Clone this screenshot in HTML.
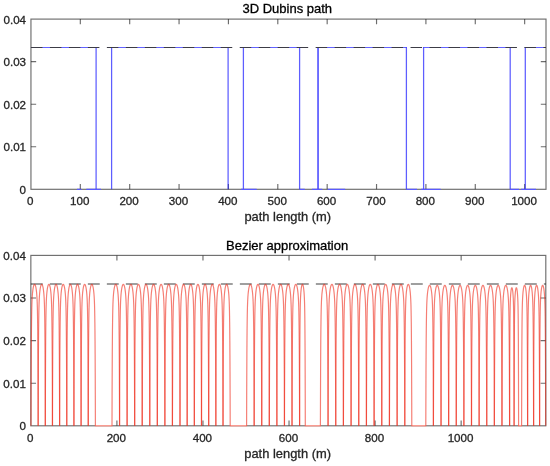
<!DOCTYPE html>
<html><head><meta charset="utf-8"><title>Curvature plots</title>
<style>
html,body{margin:0;padding:0;background:#fff;}
body{width:550px;height:466px;overflow:hidden;}
svg{display:block;}
text{font-family:"Liberation Sans", Arial, Helvetica, sans-serif;fill:#262626;}
text{stroke:#262626;stroke-width:0.3px;}
.tk{font-size:11.6px;}
.lb{font-size:12.9px;}
.tt{font-size:13px;fill:#000;stroke:#000;}
.ax{stroke:#262626;stroke-width:1.15;fill:none;opacity:0.67;}
.dash{stroke:#000;stroke-width:1.4;fill:none;stroke-dasharray:11.9 7.1;opacity:0.5;}
.blueh{stroke:#2020ff;stroke-width:1.05;fill:none;opacity:0.7;}
.dash1{stroke:#3c3c46;stroke-width:1.05;fill:none;stroke-dasharray:11.5 7.48;}
.blue{stroke:#2020ff;stroke-width:1.25;fill:none;opacity:0.72;}
.redflat{stroke:#f89c92;stroke-width:1.5;fill:none;}
.blueflat{stroke:#5a5aff;stroke-width:1.2;fill:none;}
.red path{stroke:#ee2818;stroke-width:1.18;fill:none;stroke-linejoin:round;stroke-opacity:0.6;}
</style></head><body>
<svg width="550" height="466" viewBox="0 0 550 466">
<rect width="550" height="466" fill="#fff"/>

<g>
<rect class="ax" x="30.95" y="19.1" width="515.05" height="170.20000000000002"/>
<path class="ax" d="M80.32 189.3v-5.2M80.32 19.1v5.2M129.69 189.3v-5.2M129.69 19.1v5.2M179.06 189.3v-5.2M179.06 19.1v5.2M228.43 189.3v-5.2M228.43 19.1v5.2M277.80 189.3v-5.2M277.80 19.1v5.2M327.17 189.3v-5.2M327.17 19.1v5.2M376.54 189.3v-5.2M376.54 19.1v5.2M425.91 189.3v-5.2M425.91 19.1v5.2M475.28 189.3v-5.2M475.28 19.1v5.2M524.65 189.3v-5.2M524.65 19.1v5.2M30.95 146.75h5.2M546.0 146.75h-5.2M30.95 104.20h5.2M546.0 104.20h-5.2M30.95 61.65h5.2M546.0 61.65h-5.2"/>
<path class="blueh" d="M30.95 47.5H96.70M111.00 47.5H228.70M242.80 47.5H300.20M317.20 47.5H407.00M423.00 47.5H510.80M524.70 47.5H546.00"/>
<path class="blue" d="M96.1 47.5V189.3M111.6 189.3V47.5M228.1 47.5V189.3M243.4 189.3V47.5M299.6 47.5V189.3M317.8 189.3V47.5M406.4 47.5V189.3M423.6 189.3V47.5M510.2 47.5V189.3M525.3 189.3V47.5M318.3 189.3V47.5"/>
<path class="blueflat" d="M77 189.3H81.4M86.3 189.3H101M241 189.3H256.7M299.6 189.3H304.8M311.9 189.3H322.3M327.7 189.3H345.2M406.4 189.3H417M421.1 189.3H440.7M510.2 189.3H519M521 189.3H536"/>
<path class="dash1" d="M30.95 47.5H546.0"/>
<text class="tk" x="30.35" y="205.30" text-anchor="middle">0</text>
<text class="tk" x="79.72" y="205.30" text-anchor="middle">100</text>
<text class="tk" x="129.09" y="205.30" text-anchor="middle">200</text>
<text class="tk" x="178.46" y="205.30" text-anchor="middle">300</text>
<text class="tk" x="227.83" y="205.30" text-anchor="middle">400</text>
<text class="tk" x="277.20" y="205.30" text-anchor="middle">500</text>
<text class="tk" x="326.57" y="205.30" text-anchor="middle">600</text>
<text class="tk" x="375.94" y="205.30" text-anchor="middle">700</text>
<text class="tk" x="425.31" y="205.30" text-anchor="middle">800</text>
<text class="tk" x="474.68" y="205.30" text-anchor="middle">900</text>
<text class="tk" x="524.05" y="205.30" text-anchor="middle">1000</text>
<text class="tk" x="26.05" y="193.70" text-anchor="end">0</text>
<text class="tk" x="26.05" y="151.15" text-anchor="end">0.01</text>
<text class="tk" x="26.05" y="108.60" text-anchor="end">0.02</text>
<text class="tk" x="26.05" y="66.05" text-anchor="end">0.03</text>
<text class="tk" x="26.05" y="23.50" text-anchor="end">0.04</text>
<text class="tt" x="287.28" y="13.20" text-anchor="middle">3D Dubins path</text>
<text class="lb" x="287.78" y="221.40" text-anchor="middle">path length (m)</text>
</g>
<g>
<rect class="ax" x="30.85" y="255.4" width="514.9499999999999" height="170.4"/>
<path class="ax" d="M116.91 425.8v-5.2M116.91 255.4v5.2M202.97 425.8v-5.2M202.97 255.4v5.2M289.03 425.8v-5.2M289.03 255.4v5.2M375.09 425.8v-5.2M375.09 255.4v5.2M461.15 425.8v-5.2M461.15 255.4v5.2M30.85 383.20h5.2M545.8 383.20h-5.2M30.85 340.60h5.2M545.8 340.60h-5.2M30.85 298.00h5.2M545.8 298.00h-5.2"/>
<path class="dash" d="M30.85 284H545.8"/>
<path class="redflat" d="M94.90 425.75H112.50M229.70 425.75H247.10M304.80 425.75H320.90M411.30 425.75H426.30M518.10 425.75H522.10"/>
<g class="red"><path d="M31.00 425.80L31.09 395.60L31.18 372.35L31.27 354.49L31.36 340.79L31.45 330.27L31.54 322.17L31.63 315.90L31.72 311.03L31.80 307.19L31.89 304.14L31.98 301.66L32.07 299.63L32.16 297.92L32.25 296.46L32.34 295.19L32.43 294.07L32.52 293.07L32.61 292.16L32.70 291.34L32.79 290.58L32.88 289.89L32.97 289.25L33.06 288.67L33.15 288.13L33.24 287.63L33.33 287.18L33.41 286.77L33.50 286.39L33.59 286.05L33.68 285.75L33.77 285.48L33.86 285.24L33.95 285.03L34.04 284.85L34.13 284.70L34.22 284.58L34.31 284.49L34.40 284.42L34.49 284.38L34.58 284.37L34.67 284.38L34.76 284.42L34.85 284.49L34.94 284.58L35.02 284.70L35.11 284.85L35.20 285.03L35.29 285.24L35.38 285.48L35.47 285.75L35.56 286.05L35.65 286.39L35.74 286.77L35.83 287.18L35.92 287.63L36.01 288.13L36.10 288.67L36.19 289.25L36.28 289.89L36.37 290.58L36.46 291.34L36.55 292.16L36.64 293.07L36.72 294.07L36.81 295.19L36.90 296.46L36.99 297.92L37.08 299.63L37.17 301.66L37.26 304.14L37.35 307.19L37.44 311.03L37.53 315.90L37.62 322.17L37.71 330.27L37.80 340.79L37.89 354.49L37.98 372.35L38.07 395.60L38.16 425.80"/><path d="M38.16 425.80L38.25 395.60L38.33 372.35L38.42 354.49L38.51 340.79L38.60 330.27L38.69 322.17L38.78 315.90L38.87 311.03L38.96 307.19L39.05 304.14L39.14 301.66L39.23 299.63L39.32 297.92L39.41 296.46L39.50 295.19L39.59 294.07L39.68 293.07L39.77 292.16L39.86 291.34L39.94 290.58L40.03 289.89L40.12 289.25L40.21 288.67L40.30 288.13L40.39 287.63L40.48 287.18L40.57 286.77L40.66 286.39L40.75 286.05L40.84 285.75L40.93 285.48L41.02 285.24L41.11 285.03L41.20 284.85L41.29 284.70L41.38 284.58L41.47 284.49L41.55 284.42L41.64 284.38L41.73 284.37L41.82 284.38L41.91 284.42L42.00 284.49L42.09 284.58L42.18 284.70L42.27 284.85L42.36 285.03L42.45 285.24L42.54 285.48L42.63 285.75L42.72 286.05L42.81 286.39L42.90 286.77L42.99 287.18L43.08 287.63L43.16 288.13L43.25 288.67L43.34 289.25L43.43 289.89L43.52 290.58L43.61 291.34L43.70 292.16L43.79 293.07L43.88 294.07L43.97 295.19L44.06 296.46L44.15 297.92L44.24 299.63L44.33 301.66L44.42 304.14L44.51 307.19L44.60 311.03L44.69 315.90L44.77 322.17L44.86 330.27L44.95 340.79L45.04 354.49L45.13 372.35L45.22 395.60L45.31 425.80"/><path d="M45.31 425.80L45.40 395.60L45.49 372.35L45.58 354.49L45.67 340.79L45.76 330.27L45.85 322.17L45.94 315.90L46.03 311.03L46.12 307.19L46.21 304.14L46.30 301.66L46.38 299.63L46.47 297.92L46.56 296.46L46.65 295.19L46.74 294.07L46.83 293.07L46.92 292.16L47.01 291.34L47.10 290.58L47.19 289.89L47.28 289.25L47.37 288.67L47.46 288.13L47.55 287.63L47.64 287.18L47.73 286.77L47.82 286.39L47.91 286.05L47.99 285.75L48.08 285.48L48.17 285.24L48.26 285.03L48.35 284.85L48.44 284.70L48.53 284.58L48.62 284.49L48.71 284.42L48.80 284.38L48.89 284.37L48.98 284.38L49.07 284.42L49.16 284.49L49.25 284.58L49.34 284.70L49.43 284.85L49.52 285.03L49.60 285.24L49.69 285.48L49.78 285.75L49.87 286.05L49.96 286.39L50.05 286.77L50.14 287.18L50.23 287.63L50.32 288.13L50.41 288.67L50.50 289.25L50.59 289.89L50.68 290.58L50.77 291.34L50.86 292.16L50.95 293.07L51.04 294.07L51.12 295.19L51.21 296.46L51.30 297.92L51.39 299.63L51.48 301.66L51.57 304.14L51.66 307.19L51.75 311.03L51.84 315.90L51.93 322.17L52.02 330.27L52.11 340.79L52.20 354.49L52.29 372.35L52.38 395.60L52.47 425.80"/><path d="M52.47 425.80L52.56 395.60L52.65 372.35L52.73 354.49L52.82 340.79L52.91 330.27L53.00 322.17L53.09 315.90L53.18 311.03L53.27 307.19L53.36 304.14L53.45 301.66L53.54 299.63L53.63 297.92L53.72 296.46L53.81 295.19L53.90 294.07L53.99 293.07L54.08 292.16L54.17 291.34L54.26 290.58L54.34 289.89L54.43 289.25L54.52 288.67L54.61 288.13L54.70 287.63L54.79 287.18L54.88 286.77L54.97 286.39L55.06 286.05L55.15 285.75L55.24 285.48L55.33 285.24L55.42 285.03L55.51 284.85L55.60 284.70L55.69 284.58L55.78 284.49L55.87 284.42L55.95 284.38L56.04 284.37L56.13 284.38L56.22 284.42L56.31 284.49L56.40 284.58L56.49 284.70L56.58 284.85L56.67 285.03L56.76 285.24L56.85 285.48L56.94 285.75L57.03 286.05L57.12 286.39L57.21 286.77L57.30 287.18L57.39 287.63L57.48 288.13L57.56 288.67L57.65 289.25L57.74 289.89L57.83 290.58L57.92 291.34L58.01 292.16L58.10 293.07L58.19 294.07L58.28 295.19L58.37 296.46L58.46 297.92L58.55 299.63L58.64 301.66L58.73 304.14L58.82 307.19L58.91 311.03L59.00 315.90L59.09 322.17L59.17 330.27L59.26 340.79L59.35 354.49L59.44 372.35L59.53 395.60L59.62 425.80"/><path d="M59.62 425.80L59.71 395.60L59.80 372.35L59.89 354.49L59.98 340.79L60.07 330.27L60.16 322.17L60.25 315.90L60.34 311.03L60.43 307.19L60.52 304.14L60.61 301.66L60.70 299.63L60.78 297.92L60.87 296.46L60.96 295.19L61.05 294.07L61.14 293.07L61.23 292.16L61.32 291.34L61.41 290.58L61.50 289.89L61.59 289.25L61.68 288.67L61.77 288.13L61.86 287.63L61.95 287.18L62.04 286.77L62.13 286.39L62.22 286.05L62.31 285.75L62.39 285.48L62.48 285.24L62.57 285.03L62.66 284.85L62.75 284.70L62.84 284.58L62.93 284.49L63.02 284.42L63.11 284.38L63.20 284.37L63.29 284.38L63.38 284.42L63.47 284.49L63.56 284.58L63.65 284.70L63.74 284.85L63.83 285.03L63.92 285.24L64.00 285.48L64.09 285.75L64.18 286.05L64.27 286.39L64.36 286.77L64.45 287.18L64.54 287.63L64.63 288.13L64.72 288.67L64.81 289.25L64.90 289.89L64.99 290.58L65.08 291.34L65.17 292.16L65.26 293.07L65.35 294.07L65.44 295.19L65.53 296.46L65.61 297.92L65.70 299.63L65.79 301.66L65.88 304.14L65.97 307.19L66.06 311.03L66.15 315.90L66.24 322.17L66.33 330.27L66.42 340.79L66.51 354.49L66.60 372.35L66.69 395.60L66.78 425.80"/><path d="M66.78 425.80L66.87 395.60L66.96 372.35L67.05 354.49L67.14 340.79L67.22 330.27L67.31 322.17L67.40 315.90L67.49 311.03L67.58 307.19L67.67 304.14L67.76 301.66L67.85 299.63L67.94 297.92L68.03 296.46L68.12 295.19L68.21 294.07L68.30 293.07L68.39 292.16L68.48 291.34L68.57 290.58L68.66 289.89L68.75 289.25L68.83 288.67L68.92 288.13L69.01 287.63L69.10 287.18L69.19 286.77L69.28 286.39L69.37 286.05L69.46 285.75L69.55 285.48L69.64 285.24L69.73 285.03L69.82 284.85L69.91 284.70L70.00 284.58L70.09 284.49L70.18 284.42L70.27 284.38L70.36 284.37L70.44 284.38L70.53 284.42L70.62 284.49L70.71 284.58L70.80 284.70L70.89 284.85L70.98 285.03L71.07 285.24L71.16 285.48L71.25 285.75L71.34 286.05L71.43 286.39L71.52 286.77L71.61 287.18L71.70 287.63L71.79 288.13L71.88 288.67L71.97 289.25L72.06 289.89L72.14 290.58L72.23 291.34L72.32 292.16L72.41 293.07L72.50 294.07L72.59 295.19L72.68 296.46L72.77 297.92L72.86 299.63L72.95 301.66L73.04 304.14L73.13 307.19L73.22 311.03L73.31 315.90L73.40 322.17L73.49 330.27L73.58 340.79L73.67 354.49L73.75 372.35L73.84 395.60L73.93 425.80"/><path d="M73.93 425.80L74.02 395.60L74.11 372.35L74.20 354.49L74.29 340.79L74.38 330.27L74.47 322.17L74.56 315.90L74.65 311.03L74.74 307.19L74.83 304.14L74.92 301.66L75.01 299.63L75.10 297.92L75.19 296.46L75.28 295.19L75.36 294.07L75.45 293.07L75.54 292.16L75.63 291.34L75.72 290.58L75.81 289.89L75.90 289.25L75.99 288.67L76.08 288.13L76.17 287.63L76.26 287.18L76.35 286.77L76.44 286.39L76.53 286.05L76.62 285.75L76.71 285.48L76.80 285.24L76.89 285.03L76.97 284.85L77.06 284.70L77.15 284.58L77.24 284.49L77.33 284.42L77.42 284.38L77.51 284.37L77.60 284.38L77.69 284.42L77.78 284.49L77.87 284.58L77.96 284.70L78.05 284.85L78.14 285.03L78.23 285.24L78.32 285.48L78.41 285.75L78.50 286.05L78.58 286.39L78.67 286.77L78.76 287.18L78.85 287.63L78.94 288.13L79.03 288.67L79.12 289.25L79.21 289.89L79.30 290.58L79.39 291.34L79.48 292.16L79.57 293.07L79.66 294.07L79.75 295.19L79.84 296.46L79.93 297.92L80.02 299.63L80.11 301.66L80.19 304.14L80.28 307.19L80.37 311.03L80.46 315.90L80.55 322.17L80.64 330.27L80.73 340.79L80.82 354.49L80.91 372.35L81.00 395.60L81.09 425.80"/><path d="M81.09 425.80L81.18 395.60L81.27 372.35L81.36 354.49L81.45 340.79L81.54 330.27L81.63 322.17L81.72 315.90L81.80 311.03L81.89 307.19L81.98 304.14L82.07 301.66L82.16 299.63L82.25 297.92L82.34 296.46L82.43 295.19L82.52 294.07L82.61 293.07L82.70 292.16L82.79 291.34L82.88 290.58L82.97 289.89L83.06 289.25L83.15 288.67L83.24 288.13L83.33 287.63L83.41 287.18L83.50 286.77L83.59 286.39L83.68 286.05L83.77 285.75L83.86 285.48L83.95 285.24L84.04 285.03L84.13 284.85L84.22 284.70L84.31 284.58L84.40 284.49L84.49 284.42L84.58 284.38L84.67 284.37L84.76 284.38L84.85 284.42L84.94 284.49L85.02 284.58L85.11 284.70L85.20 284.85L85.29 285.03L85.38 285.24L85.47 285.48L85.56 285.75L85.65 286.05L85.74 286.39L85.83 286.77L85.92 287.18L86.01 287.63L86.10 288.13L86.19 288.67L86.28 289.25L86.37 289.89L86.46 290.58L86.55 291.34L86.63 292.16L86.72 293.07L86.81 294.07L86.90 295.19L86.99 296.46L87.08 297.92L87.17 299.63L87.26 301.66L87.35 304.14L87.44 307.19L87.53 311.03L87.62 315.90L87.71 322.17L87.80 330.27L87.89 340.79L87.98 354.49L88.07 372.35L88.16 395.60L88.24 425.80"/><path d="M88.24 425.80L88.33 395.60L88.42 372.35L88.51 354.49L88.60 340.79L88.69 330.27L88.78 322.17L88.87 315.90L88.96 311.03L89.05 307.19L89.14 304.14L89.23 301.66L89.32 299.63L89.41 297.92L89.50 296.46L89.59 295.19L89.68 294.07L89.77 293.07L89.85 292.16L89.94 291.34L90.03 290.58L90.12 289.89L90.21 289.25L90.30 288.67L90.39 288.13L90.48 287.63L90.57 287.18L90.66 286.77L90.75 286.39L90.84 286.05L90.93 285.75L91.02 285.48L91.11 285.24L91.20 285.03L91.29 284.85L91.38 284.70L91.46 284.58L91.55 284.49L91.64 284.42L91.73 284.38L91.82 284.37L91.91 284.38L92.00 284.42L92.09 284.49L92.18 284.58L92.27 284.70L92.36 284.85L92.45 285.03L92.54 285.24L92.63 285.48L92.72 285.75L92.81 286.05L92.90 286.39L92.98 286.77L93.07 287.18L93.16 287.63L93.25 288.13L93.34 288.67L93.43 289.25L93.52 289.89L93.61 290.58L93.70 291.34L93.79 292.16L93.88 293.07L93.97 294.07L94.06 295.19L94.15 296.46L94.24 297.92L94.33 299.63L94.42 301.66L94.51 304.14L94.59 307.19L94.68 311.03L94.77 315.90L94.86 322.17L94.95 330.27L95.04 340.79L95.13 354.49L95.22 372.35L95.31 395.60L95.40 425.80"/><path d="M112.00 425.80L112.09 395.60L112.19 372.35L112.28 354.49L112.38 340.79L112.47 330.27L112.57 322.17L112.66 315.90L112.76 311.03L112.85 307.19L112.94 304.14L113.04 301.66L113.13 299.63L113.23 297.92L113.32 296.46L113.42 295.19L113.51 294.07L113.61 293.07L113.70 292.16L113.79 291.34L113.89 290.58L113.98 289.89L114.08 289.25L114.17 288.67L114.27 288.13L114.36 287.63L114.46 287.18L114.55 286.77L114.64 286.39L114.74 286.05L114.83 285.75L114.93 285.48L115.02 285.24L115.12 285.03L115.21 284.85L115.31 284.70L115.40 284.58L115.49 284.49L115.59 284.42L115.68 284.38L115.78 284.37L115.87 284.38L115.97 284.42L116.06 284.49L116.16 284.58L116.25 284.70L116.34 284.85L116.44 285.03L116.53 285.24L116.63 285.48L116.72 285.75L116.82 286.05L116.91 286.39L117.01 286.77L117.10 287.18L117.19 287.63L117.29 288.13L117.38 288.67L117.48 289.25L117.57 289.89L117.67 290.58L117.76 291.34L117.86 292.16L117.95 293.07L118.04 294.07L118.14 295.19L118.23 296.46L118.33 297.92L118.42 299.63L118.52 301.66L118.61 304.14L118.71 307.19L118.80 311.03L118.89 315.90L118.99 322.17L119.08 330.27L119.18 340.79L119.27 354.49L119.37 372.35L119.46 395.60L119.56 425.80"/><path d="M119.56 425.80L119.65 395.60L119.74 372.35L119.84 354.49L119.93 340.79L120.03 330.27L120.12 322.17L120.22 315.90L120.31 311.03L120.41 307.19L120.50 304.14L120.59 301.66L120.69 299.63L120.78 297.92L120.88 296.46L120.97 295.19L121.07 294.07L121.16 293.07L121.26 292.16L121.35 291.34L121.44 290.58L121.54 289.89L121.63 289.25L121.73 288.67L121.82 288.13L121.92 287.63L122.01 287.18L122.11 286.77L122.20 286.39L122.29 286.05L122.39 285.75L122.48 285.48L122.58 285.24L122.67 285.03L122.77 284.85L122.86 284.70L122.96 284.58L123.05 284.49L123.14 284.42L123.24 284.38L123.33 284.37L123.43 284.38L123.52 284.42L123.62 284.49L123.71 284.58L123.81 284.70L123.90 284.85L123.99 285.03L124.09 285.24L124.18 285.48L124.28 285.75L124.37 286.05L124.47 286.39L124.56 286.77L124.66 287.18L124.75 287.63L124.84 288.13L124.94 288.67L125.03 289.25L125.13 289.89L125.22 290.58L125.32 291.34L125.41 292.16L125.51 293.07L125.60 294.07L125.69 295.19L125.79 296.46L125.88 297.92L125.98 299.63L126.07 301.66L126.17 304.14L126.26 307.19L126.36 311.03L126.45 315.90L126.54 322.17L126.64 330.27L126.73 340.79L126.83 354.49L126.92 372.35L127.02 395.60L127.11 425.80"/><path d="M127.11 425.80L127.21 395.60L127.30 372.35L127.39 354.49L127.49 340.79L127.58 330.27L127.68 322.17L127.77 315.90L127.87 311.03L127.96 307.19L128.06 304.14L128.15 301.66L128.24 299.63L128.34 297.92L128.43 296.46L128.53 295.19L128.62 294.07L128.72 293.07L128.81 292.16L128.91 291.34L129.00 290.58L129.09 289.89L129.19 289.25L129.28 288.67L129.38 288.13L129.47 287.63L129.57 287.18L129.66 286.77L129.76 286.39L129.85 286.05L129.94 285.75L130.04 285.48L130.13 285.24L130.23 285.03L130.32 284.85L130.42 284.70L130.51 284.58L130.61 284.49L130.70 284.42L130.79 284.38L130.89 284.37L130.98 284.38L131.08 284.42L131.17 284.49L131.27 284.58L131.36 284.70L131.46 284.85L131.55 285.03L131.64 285.24L131.74 285.48L131.83 285.75L131.93 286.05L132.02 286.39L132.12 286.77L132.21 287.18L132.31 287.63L132.40 288.13L132.49 288.67L132.59 289.25L132.68 289.89L132.78 290.58L132.87 291.34L132.97 292.16L133.06 293.07L133.16 294.07L133.25 295.19L133.34 296.46L133.44 297.92L133.53 299.63L133.63 301.66L133.72 304.14L133.82 307.19L133.91 311.03L134.01 315.90L134.10 322.17L134.19 330.27L134.29 340.79L134.38 354.49L134.48 372.35L134.57 395.60L134.67 425.80"/><path d="M134.67 425.80L134.76 395.60L134.86 372.35L134.95 354.49L135.04 340.79L135.14 330.27L135.23 322.17L135.33 315.90L135.42 311.03L135.52 307.19L135.61 304.14L135.71 301.66L135.80 299.63L135.89 297.92L135.99 296.46L136.08 295.19L136.18 294.07L136.27 293.07L136.37 292.16L136.46 291.34L136.56 290.58L136.65 289.89L136.74 289.25L136.84 288.67L136.93 288.13L137.03 287.63L137.12 287.18L137.22 286.77L137.31 286.39L137.41 286.05L137.50 285.75L137.59 285.48L137.69 285.24L137.78 285.03L137.88 284.85L137.97 284.70L138.07 284.58L138.16 284.49L138.26 284.42L138.35 284.38L138.44 284.37L138.54 284.38L138.63 284.42L138.73 284.49L138.82 284.58L138.92 284.70L139.01 284.85L139.11 285.03L139.20 285.24L139.29 285.48L139.39 285.75L139.48 286.05L139.58 286.39L139.67 286.77L139.77 287.18L139.86 287.63L139.96 288.13L140.05 288.67L140.14 289.25L140.24 289.89L140.33 290.58L140.43 291.34L140.52 292.16L140.62 293.07L140.71 294.07L140.81 295.19L140.90 296.46L140.99 297.92L141.09 299.63L141.18 301.66L141.28 304.14L141.37 307.19L141.47 311.03L141.56 315.90L141.66 322.17L141.75 330.27L141.84 340.79L141.94 354.49L142.03 372.35L142.13 395.60L142.22 425.80"/><path d="M142.22 425.80L142.32 395.60L142.41 372.35L142.51 354.49L142.60 340.79L142.69 330.27L142.79 322.17L142.88 315.90L142.98 311.03L143.07 307.19L143.17 304.14L143.26 301.66L143.36 299.63L143.45 297.92L143.54 296.46L143.64 295.19L143.73 294.07L143.83 293.07L143.92 292.16L144.02 291.34L144.11 290.58L144.21 289.89L144.30 289.25L144.39 288.67L144.49 288.13L144.58 287.63L144.68 287.18L144.77 286.77L144.87 286.39L144.96 286.05L145.06 285.75L145.15 285.48L145.24 285.24L145.34 285.03L145.43 284.85L145.53 284.70L145.62 284.58L145.72 284.49L145.81 284.42L145.91 284.38L146.00 284.37L146.09 284.38L146.19 284.42L146.28 284.49L146.38 284.58L146.47 284.70L146.57 284.85L146.66 285.03L146.76 285.24L146.85 285.48L146.94 285.75L147.04 286.05L147.13 286.39L147.23 286.77L147.32 287.18L147.42 287.63L147.51 288.13L147.61 288.67L147.70 289.25L147.79 289.89L147.89 290.58L147.98 291.34L148.08 292.16L148.17 293.07L148.27 294.07L148.36 295.19L148.46 296.46L148.55 297.92L148.64 299.63L148.74 301.66L148.83 304.14L148.93 307.19L149.02 311.03L149.12 315.90L149.21 322.17L149.31 330.27L149.40 340.79L149.49 354.49L149.59 372.35L149.68 395.60L149.78 425.80"/><path d="M149.78 425.80L149.87 395.60L149.97 372.35L150.06 354.49L150.16 340.79L150.25 330.27L150.34 322.17L150.44 315.90L150.53 311.03L150.63 307.19L150.72 304.14L150.82 301.66L150.91 299.63L151.01 297.92L151.10 296.46L151.19 295.19L151.29 294.07L151.38 293.07L151.48 292.16L151.57 291.34L151.67 290.58L151.76 289.89L151.86 289.25L151.95 288.67L152.04 288.13L152.14 287.63L152.23 287.18L152.33 286.77L152.42 286.39L152.52 286.05L152.61 285.75L152.71 285.48L152.80 285.24L152.89 285.03L152.99 284.85L153.08 284.70L153.18 284.58L153.27 284.49L153.37 284.42L153.46 284.38L153.56 284.37L153.65 284.38L153.74 284.42L153.84 284.49L153.93 284.58L154.03 284.70L154.12 284.85L154.22 285.03L154.31 285.24L154.41 285.48L154.50 285.75L154.59 286.05L154.69 286.39L154.78 286.77L154.88 287.18L154.97 287.63L155.07 288.13L155.16 288.67L155.26 289.25L155.35 289.89L155.44 290.58L155.54 291.34L155.63 292.16L155.73 293.07L155.82 294.07L155.92 295.19L156.01 296.46L156.11 297.92L156.20 299.63L156.29 301.66L156.39 304.14L156.48 307.19L156.58 311.03L156.67 315.90L156.77 322.17L156.86 330.27L156.96 340.79L157.05 354.49L157.14 372.35L157.24 395.60L157.33 425.80"/><path d="M157.33 425.80L157.43 395.60L157.52 372.35L157.62 354.49L157.71 340.79L157.81 330.27L157.90 322.17L157.99 315.90L158.09 311.03L158.18 307.19L158.28 304.14L158.37 301.66L158.47 299.63L158.56 297.92L158.66 296.46L158.75 295.19L158.84 294.07L158.94 293.07L159.03 292.16L159.13 291.34L159.22 290.58L159.32 289.89L159.41 289.25L159.51 288.67L159.60 288.13L159.69 287.63L159.79 287.18L159.88 286.77L159.98 286.39L160.07 286.05L160.17 285.75L160.26 285.48L160.36 285.24L160.45 285.03L160.54 284.85L160.64 284.70L160.73 284.58L160.83 284.49L160.92 284.42L161.02 284.38L161.11 284.37L161.21 284.38L161.30 284.42L161.39 284.49L161.49 284.58L161.58 284.70L161.68 284.85L161.77 285.03L161.87 285.24L161.96 285.48L162.06 285.75L162.15 286.05L162.24 286.39L162.34 286.77L162.43 287.18L162.53 287.63L162.62 288.13L162.72 288.67L162.81 289.25L162.91 289.89L163.00 290.58L163.09 291.34L163.19 292.16L163.28 293.07L163.38 294.07L163.47 295.19L163.57 296.46L163.66 297.92L163.76 299.63L163.85 301.66L163.94 304.14L164.04 307.19L164.13 311.03L164.23 315.90L164.32 322.17L164.42 330.27L164.51 340.79L164.61 354.49L164.70 372.35L164.79 395.60L164.89 425.80"/><path d="M164.89 425.80L164.98 395.60L165.08 372.35L165.17 354.49L165.27 340.79L165.36 330.27L165.46 322.17L165.55 315.90L165.64 311.03L165.74 307.19L165.83 304.14L165.93 301.66L166.02 299.63L166.12 297.92L166.21 296.46L166.31 295.19L166.40 294.07L166.49 293.07L166.59 292.16L166.68 291.34L166.78 290.58L166.87 289.89L166.97 289.25L167.06 288.67L167.16 288.13L167.25 287.63L167.34 287.18L167.44 286.77L167.53 286.39L167.63 286.05L167.72 285.75L167.82 285.48L167.91 285.24L168.01 285.03L168.10 284.85L168.19 284.70L168.29 284.58L168.38 284.49L168.48 284.42L168.57 284.38L168.67 284.37L168.76 284.38L168.86 284.42L168.95 284.49L169.04 284.58L169.14 284.70L169.23 284.85L169.33 285.03L169.42 285.24L169.52 285.48L169.61 285.75L169.71 286.05L169.80 286.39L169.89 286.77L169.99 287.18L170.08 287.63L170.18 288.13L170.27 288.67L170.37 289.25L170.46 289.89L170.56 290.58L170.65 291.34L170.74 292.16L170.84 293.07L170.93 294.07L171.03 295.19L171.12 296.46L171.22 297.92L171.31 299.63L171.41 301.66L171.50 304.14L171.59 307.19L171.69 311.03L171.78 315.90L171.88 322.17L171.97 330.27L172.07 340.79L172.16 354.49L172.26 372.35L172.35 395.60L172.44 425.80"/><path d="M172.44 425.80L172.54 395.60L172.63 372.35L172.73 354.49L172.82 340.79L172.92 330.27L173.01 322.17L173.11 315.90L173.20 311.03L173.29 307.19L173.39 304.14L173.48 301.66L173.58 299.63L173.67 297.92L173.77 296.46L173.86 295.19L173.96 294.07L174.05 293.07L174.14 292.16L174.24 291.34L174.33 290.58L174.43 289.89L174.52 289.25L174.62 288.67L174.71 288.13L174.81 287.63L174.90 287.18L174.99 286.77L175.09 286.39L175.18 286.05L175.28 285.75L175.37 285.48L175.47 285.24L175.56 285.03L175.66 284.85L175.75 284.70L175.84 284.58L175.94 284.49L176.03 284.42L176.13 284.38L176.22 284.37L176.32 284.38L176.41 284.42L176.51 284.49L176.60 284.58L176.69 284.70L176.79 284.85L176.88 285.03L176.98 285.24L177.07 285.48L177.17 285.75L177.26 286.05L177.36 286.39L177.45 286.77L177.54 287.18L177.64 287.63L177.73 288.13L177.83 288.67L177.92 289.25L178.02 289.89L178.11 290.58L178.21 291.34L178.30 292.16L178.39 293.07L178.49 294.07L178.58 295.19L178.68 296.46L178.77 297.92L178.87 299.63L178.96 301.66L179.06 304.14L179.15 307.19L179.24 311.03L179.34 315.90L179.43 322.17L179.53 330.27L179.62 340.79L179.72 354.49L179.81 372.35L179.91 395.60L180.00 425.80"/><path d="M180.00 425.80L180.09 395.60L180.18 372.35L180.27 354.49L180.36 340.79L180.45 330.27L180.54 322.17L180.63 315.90L180.72 311.03L180.81 307.19L180.90 304.14L180.99 301.66L181.08 299.63L181.17 297.92L181.25 296.46L181.34 295.19L181.43 294.07L181.52 293.07L181.61 292.16L181.70 291.34L181.79 290.58L181.88 289.89L181.97 289.25L182.06 288.67L182.15 288.13L182.24 287.63L182.33 287.18L182.42 286.77L182.51 286.39L182.60 286.05L182.69 285.75L182.78 285.48L182.87 285.24L182.96 285.03L183.05 284.85L183.14 284.70L183.23 284.58L183.32 284.49L183.41 284.42L183.50 284.38L183.59 284.37L183.68 284.38L183.77 284.42L183.85 284.49L183.94 284.58L184.03 284.70L184.12 284.85L184.21 285.03L184.30 285.24L184.39 285.48L184.48 285.75L184.57 286.05L184.66 286.39L184.75 286.77L184.84 287.18L184.93 287.63L185.02 288.13L185.11 288.67L185.20 289.25L185.29 289.89L185.38 290.58L185.47 291.34L185.56 292.16L185.65 293.07L185.74 294.07L185.83 295.19L185.92 296.46L186.01 297.92L186.10 299.63L186.19 301.66L186.28 304.14L186.36 307.19L186.45 311.03L186.54 315.90L186.63 322.17L186.72 330.27L186.81 340.79L186.90 354.49L186.99 372.35L187.08 395.60L187.17 425.80"/><path d="M187.17 425.80L187.26 395.60L187.35 372.35L187.44 354.49L187.53 340.79L187.62 330.27L187.71 322.17L187.80 315.90L187.89 311.03L187.98 307.19L188.07 304.14L188.16 301.66L188.25 299.63L188.34 297.92L188.43 296.46L188.52 295.19L188.61 294.07L188.70 293.07L188.78 292.16L188.87 291.34L188.96 290.58L189.05 289.89L189.14 289.25L189.23 288.67L189.32 288.13L189.41 287.63L189.50 287.18L189.59 286.77L189.68 286.39L189.77 286.05L189.86 285.75L189.95 285.48L190.04 285.24L190.13 285.03L190.22 284.85L190.31 284.70L190.40 284.58L190.49 284.49L190.58 284.42L190.67 284.38L190.76 284.37L190.85 284.38L190.94 284.42L191.03 284.49L191.12 284.58L191.21 284.70L191.29 284.85L191.38 285.03L191.47 285.24L191.56 285.48L191.65 285.75L191.74 286.05L191.83 286.39L191.92 286.77L192.01 287.18L192.10 287.63L192.19 288.13L192.28 288.67L192.37 289.25L192.46 289.89L192.55 290.58L192.64 291.34L192.73 292.16L192.82 293.07L192.91 294.07L193.00 295.19L193.09 296.46L193.18 297.92L193.27 299.63L193.36 301.66L193.45 304.14L193.54 307.19L193.63 311.03L193.72 315.90L193.80 322.17L193.89 330.27L193.98 340.79L194.07 354.49L194.16 372.35L194.25 395.60L194.34 425.80"/><path d="M194.34 425.80L194.43 395.60L194.52 372.35L194.61 354.49L194.70 340.79L194.79 330.27L194.88 322.17L194.97 315.90L195.06 311.03L195.15 307.19L195.24 304.14L195.33 301.66L195.42 299.63L195.51 297.92L195.60 296.46L195.69 295.19L195.78 294.07L195.87 293.07L195.96 292.16L196.05 291.34L196.14 290.58L196.23 289.89L196.31 289.25L196.40 288.67L196.49 288.13L196.58 287.63L196.67 287.18L196.76 286.77L196.85 286.39L196.94 286.05L197.03 285.75L197.12 285.48L197.21 285.24L197.30 285.03L197.39 284.85L197.48 284.70L197.57 284.58L197.66 284.49L197.75 284.42L197.84 284.38L197.93 284.37L198.02 284.38L198.11 284.42L198.20 284.49L198.29 284.58L198.38 284.70L198.47 284.85L198.56 285.03L198.65 285.24L198.74 285.48L198.82 285.75L198.91 286.05L199.00 286.39L199.09 286.77L199.18 287.18L199.27 287.63L199.36 288.13L199.45 288.67L199.54 289.25L199.63 289.89L199.72 290.58L199.81 291.34L199.90 292.16L199.99 293.07L200.08 294.07L200.17 295.19L200.26 296.46L200.35 297.92L200.44 299.63L200.53 301.66L200.62 304.14L200.71 307.19L200.80 311.03L200.89 315.90L200.98 322.17L201.07 330.27L201.16 340.79L201.25 354.49L201.33 372.35L201.42 395.60L201.51 425.80"/><path d="M201.51 425.80L201.60 395.60L201.69 372.35L201.78 354.49L201.87 340.79L201.96 330.27L202.05 322.17L202.14 315.90L202.23 311.03L202.32 307.19L202.41 304.14L202.50 301.66L202.59 299.63L202.68 297.92L202.77 296.46L202.86 295.19L202.95 294.07L203.04 293.07L203.13 292.16L203.22 291.34L203.31 290.58L203.40 289.89L203.49 289.25L203.58 288.67L203.67 288.13L203.76 287.63L203.84 287.18L203.93 286.77L204.02 286.39L204.11 286.05L204.20 285.75L204.29 285.48L204.38 285.24L204.47 285.03L204.56 284.85L204.65 284.70L204.74 284.58L204.83 284.49L204.92 284.42L205.01 284.38L205.10 284.37L205.19 284.38L205.28 284.42L205.37 284.49L205.46 284.58L205.55 284.70L205.64 284.85L205.73 285.03L205.82 285.24L205.91 285.48L206.00 285.75L206.09 286.05L206.18 286.39L206.27 286.77L206.35 287.18L206.44 287.63L206.53 288.13L206.62 288.67L206.71 289.25L206.80 289.89L206.89 290.58L206.98 291.34L207.07 292.16L207.16 293.07L207.25 294.07L207.34 295.19L207.43 296.46L207.52 297.92L207.61 299.63L207.70 301.66L207.79 304.14L207.88 307.19L207.97 311.03L208.06 315.90L208.15 322.17L208.24 330.27L208.33 340.79L208.42 354.49L208.51 372.35L208.60 395.60L208.69 425.80"/><path d="M208.69 425.80L208.78 395.60L208.87 372.35L208.95 354.49L209.04 340.79L209.13 330.27L209.22 322.17L209.31 315.90L209.40 311.03L209.49 307.19L209.58 304.14L209.67 301.66L209.76 299.63L209.85 297.92L209.94 296.46L210.03 295.19L210.12 294.07L210.21 293.07L210.30 292.16L210.39 291.34L210.48 290.58L210.57 289.89L210.66 289.25L210.75 288.67L210.84 288.13L210.93 287.63L211.02 287.18L211.11 286.77L211.20 286.39L211.29 286.05L211.38 285.75L211.46 285.48L211.55 285.24L211.64 285.03L211.73 284.85L211.82 284.70L211.91 284.58L212.00 284.49L212.09 284.42L212.18 284.38L212.27 284.37L212.36 284.38L212.45 284.42L212.54 284.49L212.63 284.58L212.72 284.70L212.81 284.85L212.90 285.03L212.99 285.24L213.08 285.48L213.17 285.75L213.26 286.05L213.35 286.39L213.44 286.77L213.53 287.18L213.62 287.63L213.71 288.13L213.80 288.67L213.88 289.25L213.97 289.89L214.06 290.58L214.15 291.34L214.24 292.16L214.33 293.07L214.42 294.07L214.51 295.19L214.60 296.46L214.69 297.92L214.78 299.63L214.87 301.66L214.96 304.14L215.05 307.19L215.14 311.03L215.23 315.90L215.32 322.17L215.41 330.27L215.50 340.79L215.59 354.49L215.68 372.35L215.77 395.60L215.86 425.80"/><path d="M215.86 425.80L215.95 395.60L216.04 372.35L216.13 354.49L216.22 340.79L216.31 330.27L216.39 322.17L216.48 315.90L216.57 311.03L216.66 307.19L216.75 304.14L216.84 301.66L216.93 299.63L217.02 297.92L217.11 296.46L217.20 295.19L217.29 294.07L217.38 293.07L217.47 292.16L217.56 291.34L217.65 290.58L217.74 289.89L217.83 289.25L217.92 288.67L218.01 288.13L218.10 287.63L218.19 287.18L218.28 286.77L218.37 286.39L218.46 286.05L218.55 285.75L218.64 285.48L218.73 285.24L218.82 285.03L218.90 284.85L218.99 284.70L219.08 284.58L219.17 284.49L219.26 284.42L219.35 284.38L219.44 284.37L219.53 284.38L219.62 284.42L219.71 284.49L219.80 284.58L219.89 284.70L219.98 284.85L220.07 285.03L220.16 285.24L220.25 285.48L220.34 285.75L220.43 286.05L220.52 286.39L220.61 286.77L220.70 287.18L220.79 287.63L220.88 288.13L220.97 288.67L221.06 289.25L221.15 289.89L221.24 290.58L221.33 291.34L221.41 292.16L221.50 293.07L221.59 294.07L221.68 295.19L221.77 296.46L221.86 297.92L221.95 299.63L222.04 301.66L222.13 304.14L222.22 307.19L222.31 311.03L222.40 315.90L222.49 322.17L222.58 330.27L222.67 340.79L222.76 354.49L222.85 372.35L222.94 395.60L223.03 425.80"/><path d="M223.03 425.80L223.12 395.60L223.21 372.35L223.30 354.49L223.39 340.79L223.48 330.27L223.57 322.17L223.66 315.90L223.75 311.03L223.84 307.19L223.92 304.14L224.01 301.66L224.10 299.63L224.19 297.92L224.28 296.46L224.37 295.19L224.46 294.07L224.55 293.07L224.64 292.16L224.73 291.34L224.82 290.58L224.91 289.89L225.00 289.25L225.09 288.67L225.18 288.13L225.27 287.63L225.36 287.18L225.45 286.77L225.54 286.39L225.63 286.05L225.72 285.75L225.81 285.48L225.90 285.24L225.99 285.03L226.08 284.85L226.17 284.70L226.26 284.58L226.35 284.49L226.43 284.42L226.52 284.38L226.61 284.37L226.70 284.38L226.79 284.42L226.88 284.49L226.97 284.58L227.06 284.70L227.15 284.85L227.24 285.03L227.33 285.24L227.42 285.48L227.51 285.75L227.60 286.05L227.69 286.39L227.78 286.77L227.87 287.18L227.96 287.63L228.05 288.13L228.14 288.67L228.23 289.25L228.32 289.89L228.41 290.58L228.50 291.34L228.59 292.16L228.68 293.07L228.77 294.07L228.86 295.19L228.94 296.46L229.03 297.92L229.12 299.63L229.21 301.66L229.30 304.14L229.39 307.19L229.48 311.03L229.57 315.90L229.66 322.17L229.75 330.27L229.84 340.79L229.93 354.49L230.02 372.35L230.11 395.60L230.20 425.80"/><path d="M246.60 425.80L246.69 395.60L246.79 372.35L246.88 354.49L246.98 340.79L247.07 330.27L247.17 322.17L247.26 315.90L247.36 311.03L247.45 307.19L247.55 304.14L247.64 301.66L247.74 299.63L247.83 297.92L247.92 296.46L248.02 295.19L248.11 294.07L248.21 293.07L248.30 292.16L248.40 291.34L248.49 290.58L248.59 289.89L248.68 289.25L248.78 288.67L248.87 288.13L248.97 287.63L249.06 287.18L249.16 286.77L249.25 286.39L249.34 286.05L249.44 285.75L249.53 285.48L249.63 285.24L249.72 285.03L249.82 284.85L249.91 284.70L250.01 284.58L250.10 284.49L250.20 284.42L250.29 284.38L250.39 284.37L250.48 284.38L250.57 284.42L250.67 284.49L250.76 284.58L250.86 284.70L250.95 284.85L251.05 285.03L251.14 285.24L251.24 285.48L251.33 285.75L251.43 286.05L251.52 286.39L251.62 286.77L251.71 287.18L251.81 287.63L251.90 288.13L251.99 288.67L252.09 289.25L252.18 289.89L252.28 290.58L252.37 291.34L252.47 292.16L252.56 293.07L252.66 294.07L252.75 295.19L252.85 296.46L252.94 297.92L253.04 299.63L253.13 301.66L253.22 304.14L253.32 307.19L253.41 311.03L253.51 315.90L253.60 322.17L253.70 330.27L253.79 340.79L253.89 354.49L253.98 372.35L254.08 395.60L254.17 425.80"/><path d="M254.17 425.80L254.27 395.60L254.36 372.35L254.46 354.49L254.55 340.79L254.64 330.27L254.74 322.17L254.83 315.90L254.93 311.03L255.02 307.19L255.12 304.14L255.21 301.66L255.31 299.63L255.40 297.92L255.50 296.46L255.59 295.19L255.69 294.07L255.78 293.07L255.88 292.16L255.97 291.34L256.06 290.58L256.16 289.89L256.25 289.25L256.35 288.67L256.44 288.13L256.54 287.63L256.63 287.18L256.73 286.77L256.82 286.39L256.92 286.05L257.01 285.75L257.11 285.48L257.20 285.24L257.29 285.03L257.39 284.85L257.48 284.70L257.58 284.58L257.67 284.49L257.77 284.42L257.86 284.38L257.96 284.37L258.05 284.38L258.15 284.42L258.24 284.49L258.34 284.58L258.43 284.70L258.52 284.85L258.62 285.03L258.71 285.24L258.81 285.48L258.90 285.75L259.00 286.05L259.09 286.39L259.19 286.77L259.28 287.18L259.38 287.63L259.47 288.13L259.57 288.67L259.66 289.25L259.76 289.89L259.85 290.58L259.94 291.34L260.04 292.16L260.13 293.07L260.23 294.07L260.32 295.19L260.42 296.46L260.51 297.92L260.61 299.63L260.70 301.66L260.80 304.14L260.89 307.19L260.99 311.03L261.08 315.90L261.18 322.17L261.27 330.27L261.36 340.79L261.46 354.49L261.55 372.35L261.65 395.60L261.74 425.80"/><path d="M261.74 425.80L261.84 395.60L261.93 372.35L262.03 354.49L262.12 340.79L262.22 330.27L262.31 322.17L262.41 315.90L262.50 311.03L262.59 307.19L262.69 304.14L262.78 301.66L262.88 299.63L262.97 297.92L263.07 296.46L263.16 295.19L263.26 294.07L263.35 293.07L263.45 292.16L263.54 291.34L263.64 290.58L263.73 289.89L263.82 289.25L263.92 288.67L264.01 288.13L264.11 287.63L264.20 287.18L264.30 286.77L264.39 286.39L264.49 286.05L264.58 285.75L264.68 285.48L264.77 285.24L264.87 285.03L264.96 284.85L265.06 284.70L265.15 284.58L265.24 284.49L265.34 284.42L265.43 284.38L265.53 284.37L265.62 284.38L265.72 284.42L265.81 284.49L265.91 284.58L266.00 284.70L266.10 284.85L266.19 285.03L266.29 285.24L266.38 285.48L266.48 285.75L266.57 286.05L266.66 286.39L266.76 286.77L266.85 287.18L266.95 287.63L267.04 288.13L267.14 288.67L267.23 289.25L267.33 289.89L267.42 290.58L267.52 291.34L267.61 292.16L267.71 293.07L267.80 294.07L267.89 295.19L267.99 296.46L268.08 297.92L268.18 299.63L268.27 301.66L268.37 304.14L268.46 307.19L268.56 311.03L268.65 315.90L268.75 322.17L268.84 330.27L268.94 340.79L269.03 354.49L269.13 372.35L269.22 395.60L269.31 425.80"/><path d="M269.31 425.80L269.41 395.60L269.50 372.35L269.60 354.49L269.69 340.79L269.79 330.27L269.88 322.17L269.98 315.90L270.07 311.03L270.17 307.19L270.26 304.14L270.36 301.66L270.45 299.63L270.54 297.92L270.64 296.46L270.73 295.19L270.83 294.07L270.92 293.07L271.02 292.16L271.11 291.34L271.21 290.58L271.30 289.89L271.40 289.25L271.49 288.67L271.59 288.13L271.68 287.63L271.78 287.18L271.87 286.77L271.96 286.39L272.06 286.05L272.15 285.75L272.25 285.48L272.34 285.24L272.44 285.03L272.53 284.85L272.63 284.70L272.72 284.58L272.82 284.49L272.91 284.42L273.01 284.38L273.10 284.37L273.19 284.38L273.29 284.42L273.38 284.49L273.48 284.58L273.57 284.70L273.67 284.85L273.76 285.03L273.86 285.24L273.95 285.48L274.05 285.75L274.14 286.05L274.24 286.39L274.33 286.77L274.43 287.18L274.52 287.63L274.61 288.13L274.71 288.67L274.80 289.25L274.90 289.89L274.99 290.58L275.09 291.34L275.18 292.16L275.28 293.07L275.37 294.07L275.47 295.19L275.56 296.46L275.66 297.92L275.75 299.63L275.84 301.66L275.94 304.14L276.03 307.19L276.13 311.03L276.22 315.90L276.32 322.17L276.41 330.27L276.51 340.79L276.60 354.49L276.70 372.35L276.79 395.60L276.89 425.80"/><path d="M276.89 425.80L276.98 395.60L277.07 372.35L277.17 354.49L277.26 340.79L277.36 330.27L277.45 322.17L277.55 315.90L277.64 311.03L277.74 307.19L277.83 304.14L277.93 301.66L278.02 299.63L278.12 297.92L278.21 296.46L278.31 295.19L278.40 294.07L278.49 293.07L278.59 292.16L278.68 291.34L278.78 290.58L278.87 289.89L278.97 289.25L279.06 288.67L279.16 288.13L279.25 287.63L279.35 287.18L279.44 286.77L279.54 286.39L279.63 286.05L279.73 285.75L279.82 285.48L279.91 285.24L280.01 285.03L280.10 284.85L280.20 284.70L280.29 284.58L280.39 284.49L280.48 284.42L280.58 284.38L280.67 284.37L280.77 284.38L280.86 284.42L280.96 284.49L281.05 284.58L281.14 284.70L281.24 284.85L281.33 285.03L281.43 285.24L281.52 285.48L281.62 285.75L281.71 286.05L281.81 286.39L281.90 286.77L282.00 287.18L282.09 287.63L282.19 288.13L282.28 288.67L282.38 289.25L282.47 289.89L282.56 290.58L282.66 291.34L282.75 292.16L282.85 293.07L282.94 294.07L283.04 295.19L283.13 296.46L283.23 297.92L283.32 299.63L283.42 301.66L283.51 304.14L283.61 307.19L283.70 311.03L283.79 315.90L283.89 322.17L283.98 330.27L284.08 340.79L284.17 354.49L284.27 372.35L284.36 395.60L284.46 425.80"/><path d="M284.46 425.80L284.55 395.60L284.65 372.35L284.74 354.49L284.84 340.79L284.93 330.27L285.02 322.17L285.12 315.90L285.21 311.03L285.31 307.19L285.40 304.14L285.50 301.66L285.59 299.63L285.69 297.92L285.78 296.46L285.88 295.19L285.97 294.07L286.07 293.07L286.16 292.16L286.26 291.34L286.35 290.58L286.44 289.89L286.54 289.25L286.63 288.67L286.73 288.13L286.82 287.63L286.92 287.18L287.01 286.77L287.11 286.39L287.20 286.05L287.30 285.75L287.39 285.48L287.49 285.24L287.58 285.03L287.68 284.85L287.77 284.70L287.86 284.58L287.96 284.49L288.05 284.42L288.15 284.38L288.24 284.37L288.34 284.38L288.43 284.42L288.53 284.49L288.62 284.58L288.72 284.70L288.81 284.85L288.91 285.03L289.00 285.24L289.09 285.48L289.19 285.75L289.28 286.05L289.38 286.39L289.47 286.77L289.57 287.18L289.66 287.63L289.76 288.13L289.85 288.67L289.95 289.25L290.04 289.89L290.14 290.58L290.23 291.34L290.33 292.16L290.42 293.07L290.51 294.07L290.61 295.19L290.70 296.46L290.80 297.92L290.89 299.63L290.99 301.66L291.08 304.14L291.18 307.19L291.27 311.03L291.37 315.90L291.46 322.17L291.56 330.27L291.65 340.79L291.74 354.49L291.84 372.35L291.93 395.60L292.03 425.80"/><path d="M292.03 425.80L292.12 395.60L292.22 372.35L292.31 354.49L292.41 340.79L292.50 330.27L292.60 322.17L292.69 315.90L292.79 311.03L292.88 307.19L292.98 304.14L293.07 301.66L293.16 299.63L293.26 297.92L293.35 296.46L293.45 295.19L293.54 294.07L293.64 293.07L293.73 292.16L293.83 291.34L293.92 290.58L294.02 289.89L294.11 289.25L294.21 288.67L294.30 288.13L294.39 287.63L294.49 287.18L294.58 286.77L294.68 286.39L294.77 286.05L294.87 285.75L294.96 285.48L295.06 285.24L295.15 285.03L295.25 284.85L295.34 284.70L295.44 284.58L295.53 284.49L295.63 284.42L295.72 284.38L295.81 284.37L295.91 284.38L296.00 284.42L296.10 284.49L296.19 284.58L296.29 284.70L296.38 284.85L296.48 285.03L296.57 285.24L296.67 285.48L296.76 285.75L296.86 286.05L296.95 286.39L297.04 286.77L297.14 287.18L297.23 287.63L297.33 288.13L297.42 288.67L297.52 289.25L297.61 289.89L297.71 290.58L297.80 291.34L297.90 292.16L297.99 293.07L298.09 294.07L298.18 295.19L298.28 296.46L298.37 297.92L298.46 299.63L298.56 301.66L298.65 304.14L298.75 307.19L298.84 311.03L298.94 315.90L299.03 322.17L299.13 330.27L299.22 340.79L299.32 354.49L299.41 372.35L299.51 395.60L299.60 425.80"/><path d="M299.60 425.80L299.67 395.60L299.74 372.35L299.81 354.49L299.89 340.79L299.96 330.27L300.03 322.17L300.10 315.90L300.17 311.03L300.24 307.19L300.31 304.14L300.38 301.66L300.46 299.63L300.53 297.92L300.60 296.46L300.67 295.19L300.74 294.07L300.81 293.07L300.88 292.16L300.95 291.34L301.03 290.58L301.10 289.89L301.17 289.25L301.24 288.67L301.31 288.13L301.38 287.63L301.45 287.18L301.52 286.77L301.60 286.39L301.67 286.05L301.74 285.75L301.81 285.48L301.88 285.24L301.95 285.03L302.02 284.85L302.09 284.70L302.17 284.58L302.24 284.49L302.31 284.42L302.38 284.38L302.45 284.37L302.52 284.38L302.59 284.42L302.66 284.49L302.74 284.58L302.81 284.70L302.88 284.85L302.95 285.03L303.02 285.24L303.09 285.48L303.16 285.75L303.23 286.05L303.31 286.39L303.38 286.77L303.45 287.18L303.52 287.63L303.59 288.13L303.66 288.67L303.73 289.25L303.80 289.89L303.88 290.58L303.95 291.34L304.02 292.16L304.09 293.07L304.16 294.07L304.23 295.19L304.30 296.46L304.37 297.92L304.44 299.63L304.52 301.66L304.59 304.14L304.66 307.19L304.73 311.03L304.80 315.90L304.87 322.17L304.94 330.27L305.01 340.79L305.09 354.49L305.16 372.35L305.23 395.60L305.30 425.80"/><path d="M320.40 425.80L320.50 395.60L320.59 372.35L320.69 354.49L320.78 340.79L320.88 330.27L320.98 322.17L321.07 315.90L321.17 311.03L321.26 307.19L321.36 304.14L321.45 301.66L321.55 299.63L321.65 297.92L321.74 296.46L321.84 295.19L321.93 294.07L322.03 293.07L322.13 292.16L322.22 291.34L322.32 290.58L322.41 289.89L322.51 289.25L322.61 288.67L322.70 288.13L322.80 287.63L322.89 287.18L322.99 286.77L323.09 286.39L323.18 286.05L323.28 285.75L323.37 285.48L323.47 285.24L323.56 285.03L323.66 284.85L323.76 284.70L323.85 284.58L323.95 284.49L324.04 284.42L324.14 284.38L324.24 284.37L324.33 284.38L324.43 284.42L324.52 284.49L324.62 284.58L324.72 284.70L324.81 284.85L324.91 285.03L325.00 285.24L325.10 285.48L325.20 285.75L325.29 286.05L325.39 286.39L325.48 286.77L325.58 287.18L325.68 287.63L325.77 288.13L325.87 288.67L325.96 289.25L326.06 289.89L326.15 290.58L326.25 291.34L326.35 292.16L326.44 293.07L326.54 294.07L326.63 295.19L326.73 296.46L326.83 297.92L326.92 299.63L327.02 301.66L327.11 304.14L327.21 307.19L327.31 311.03L327.40 315.90L327.50 322.17L327.59 330.27L327.69 340.79L327.78 354.49L327.88 372.35L327.98 395.60L328.07 425.80"/><path d="M328.07 425.80L328.17 395.60L328.26 372.35L328.36 354.49L328.46 340.79L328.55 330.27L328.65 322.17L328.74 315.90L328.84 311.03L328.94 307.19L329.03 304.14L329.13 301.66L329.22 299.63L329.32 297.92L329.42 296.46L329.51 295.19L329.61 294.07L329.70 293.07L329.80 292.16L329.89 291.34L329.99 290.58L330.09 289.89L330.18 289.25L330.28 288.67L330.37 288.13L330.47 287.63L330.57 287.18L330.66 286.77L330.76 286.39L330.85 286.05L330.95 285.75L331.05 285.48L331.14 285.24L331.24 285.03L331.33 284.85L331.43 284.70L331.53 284.58L331.62 284.49L331.72 284.42L331.81 284.38L331.91 284.37L332.00 284.38L332.10 284.42L332.20 284.49L332.29 284.58L332.39 284.70L332.48 284.85L332.58 285.03L332.68 285.24L332.77 285.48L332.87 285.75L332.96 286.05L333.06 286.39L333.16 286.77L333.25 287.18L333.35 287.63L333.44 288.13L333.54 288.67L333.64 289.25L333.73 289.89L333.83 290.58L333.92 291.34L334.02 292.16L334.12 293.07L334.21 294.07L334.31 295.19L334.40 296.46L334.50 297.92L334.59 299.63L334.69 301.66L334.79 304.14L334.88 307.19L334.98 311.03L335.07 315.90L335.17 322.17L335.27 330.27L335.36 340.79L335.46 354.49L335.55 372.35L335.65 395.60L335.75 425.80"/><path d="M335.75 425.80L335.84 395.60L335.94 372.35L336.03 354.49L336.13 340.79L336.23 330.27L336.32 322.17L336.42 315.90L336.51 311.03L336.61 307.19L336.70 304.14L336.80 301.66L336.90 299.63L336.99 297.92L337.09 296.46L337.18 295.19L337.28 294.07L337.38 293.07L337.47 292.16L337.57 291.34L337.66 290.58L337.76 289.89L337.86 289.25L337.95 288.67L338.05 288.13L338.14 287.63L338.24 287.18L338.33 286.77L338.43 286.39L338.53 286.05L338.62 285.75L338.72 285.48L338.81 285.24L338.91 285.03L339.01 284.85L339.10 284.70L339.20 284.58L339.29 284.49L339.39 284.42L339.49 284.38L339.58 284.37L339.68 284.38L339.77 284.42L339.87 284.49L339.97 284.58L340.06 284.70L340.16 284.85L340.25 285.03L340.35 285.24L340.44 285.48L340.54 285.75L340.64 286.05L340.73 286.39L340.83 286.77L340.92 287.18L341.02 287.63L341.12 288.13L341.21 288.67L341.31 289.25L341.40 289.89L341.50 290.58L341.60 291.34L341.69 292.16L341.79 293.07L341.88 294.07L341.98 295.19L342.08 296.46L342.17 297.92L342.27 299.63L342.36 301.66L342.46 304.14L342.55 307.19L342.65 311.03L342.75 315.90L342.84 322.17L342.94 330.27L343.03 340.79L343.13 354.49L343.23 372.35L343.32 395.60L343.42 425.80"/><path d="M343.42 425.80L343.51 395.60L343.61 372.35L343.71 354.49L343.80 340.79L343.90 330.27L343.99 322.17L344.09 315.90L344.19 311.03L344.28 307.19L344.38 304.14L344.47 301.66L344.57 299.63L344.66 297.92L344.76 296.46L344.86 295.19L344.95 294.07L345.05 293.07L345.14 292.16L345.24 291.34L345.34 290.58L345.43 289.89L345.53 289.25L345.62 288.67L345.72 288.13L345.82 287.63L345.91 287.18L346.01 286.77L346.10 286.39L346.20 286.05L346.30 285.75L346.39 285.48L346.49 285.24L346.58 285.03L346.68 284.85L346.77 284.70L346.87 284.58L346.97 284.49L347.06 284.42L347.16 284.38L347.25 284.37L347.35 284.38L347.45 284.42L347.54 284.49L347.64 284.58L347.73 284.70L347.83 284.85L347.93 285.03L348.02 285.24L348.12 285.48L348.21 285.75L348.31 286.05L348.41 286.39L348.50 286.77L348.60 287.18L348.69 287.63L348.79 288.13L348.88 288.67L348.98 289.25L349.08 289.89L349.17 290.58L349.27 291.34L349.36 292.16L349.46 293.07L349.56 294.07L349.65 295.19L349.75 296.46L349.84 297.92L349.94 299.63L350.04 301.66L350.13 304.14L350.23 307.19L350.32 311.03L350.42 315.90L350.52 322.17L350.61 330.27L350.71 340.79L350.80 354.49L350.90 372.35L350.99 395.60L351.09 425.80"/><path d="M351.09 425.80L351.19 395.60L351.28 372.35L351.38 354.49L351.47 340.79L351.57 330.27L351.67 322.17L351.76 315.90L351.86 311.03L351.95 307.19L352.05 304.14L352.15 301.66L352.24 299.63L352.34 297.92L352.43 296.46L352.53 295.19L352.63 294.07L352.72 293.07L352.82 292.16L352.91 291.34L353.01 290.58L353.10 289.89L353.20 289.25L353.30 288.67L353.39 288.13L353.49 287.63L353.58 287.18L353.68 286.77L353.78 286.39L353.87 286.05L353.97 285.75L354.06 285.48L354.16 285.24L354.26 285.03L354.35 284.85L354.45 284.70L354.54 284.58L354.64 284.49L354.74 284.42L354.83 284.38L354.93 284.37L355.02 284.38L355.12 284.42L355.21 284.49L355.31 284.58L355.41 284.70L355.50 284.85L355.60 285.03L355.69 285.24L355.79 285.48L355.89 285.75L355.98 286.05L356.08 286.39L356.17 286.77L356.27 287.18L356.37 287.63L356.46 288.13L356.56 288.67L356.65 289.25L356.75 289.89L356.85 290.58L356.94 291.34L357.04 292.16L357.13 293.07L357.23 294.07L357.32 295.19L357.42 296.46L357.52 297.92L357.61 299.63L357.71 301.66L357.80 304.14L357.90 307.19L358.00 311.03L358.09 315.90L358.19 322.17L358.28 330.27L358.38 340.79L358.48 354.49L358.57 372.35L358.67 395.60L358.76 425.80"/><path d="M358.76 425.80L358.86 395.60L358.96 372.35L359.05 354.49L359.15 340.79L359.24 330.27L359.34 322.17L359.44 315.90L359.53 311.03L359.63 307.19L359.72 304.14L359.82 301.66L359.91 299.63L360.01 297.92L360.11 296.46L360.20 295.19L360.30 294.07L360.39 293.07L360.49 292.16L360.59 291.34L360.68 290.58L360.78 289.89L360.87 289.25L360.97 288.67L361.07 288.13L361.16 287.63L361.26 287.18L361.35 286.77L361.45 286.39L361.55 286.05L361.64 285.75L361.74 285.48L361.83 285.24L361.93 285.03L362.02 284.85L362.12 284.70L362.22 284.58L362.31 284.49L362.41 284.42L362.50 284.38L362.60 284.37L362.70 284.38L362.79 284.42L362.89 284.49L362.98 284.58L363.08 284.70L363.18 284.85L363.27 285.03L363.37 285.24L363.46 285.48L363.56 285.75L363.65 286.05L363.75 286.39L363.85 286.77L363.94 287.18L364.04 287.63L364.13 288.13L364.23 288.67L364.33 289.25L364.42 289.89L364.52 290.58L364.61 291.34L364.71 292.16L364.81 293.07L364.90 294.07L365.00 295.19L365.09 296.46L365.19 297.92L365.29 299.63L365.38 301.66L365.48 304.14L365.57 307.19L365.67 311.03L365.76 315.90L365.86 322.17L365.96 330.27L366.05 340.79L366.15 354.49L366.24 372.35L366.34 395.60L366.44 425.80"/><path d="M366.44 425.80L366.53 395.60L366.63 372.35L366.72 354.49L366.82 340.79L366.92 330.27L367.01 322.17L367.11 315.90L367.20 311.03L367.30 307.19L367.40 304.14L367.49 301.66L367.59 299.63L367.68 297.92L367.78 296.46L367.88 295.19L367.97 294.07L368.07 293.07L368.16 292.16L368.26 291.34L368.35 290.58L368.45 289.89L368.55 289.25L368.64 288.67L368.74 288.13L368.83 287.63L368.93 287.18L369.03 286.77L369.12 286.39L369.22 286.05L369.31 285.75L369.41 285.48L369.51 285.24L369.60 285.03L369.70 284.85L369.79 284.70L369.89 284.58L369.99 284.49L370.08 284.42L370.18 284.38L370.27 284.37L370.37 284.38L370.46 284.42L370.56 284.49L370.66 284.58L370.75 284.70L370.85 284.85L370.94 285.03L371.04 285.24L371.14 285.48L371.23 285.75L371.33 286.05L371.42 286.39L371.52 286.77L371.62 287.18L371.71 287.63L371.81 288.13L371.90 288.67L372.00 289.25L372.10 289.89L372.19 290.58L372.29 291.34L372.38 292.16L372.48 293.07L372.57 294.07L372.67 295.19L372.77 296.46L372.86 297.92L372.96 299.63L373.05 301.66L373.15 304.14L373.25 307.19L373.34 311.03L373.44 315.90L373.53 322.17L373.63 330.27L373.73 340.79L373.82 354.49L373.92 372.35L374.01 395.60L374.11 425.80"/><path d="M374.11 425.80L374.21 395.60L374.30 372.35L374.40 354.49L374.49 340.79L374.59 330.27L374.68 322.17L374.78 315.90L374.88 311.03L374.97 307.19L375.07 304.14L375.16 301.66L375.26 299.63L375.36 297.92L375.45 296.46L375.55 295.19L375.64 294.07L375.74 293.07L375.84 292.16L375.93 291.34L376.03 290.58L376.12 289.89L376.22 289.25L376.31 288.67L376.41 288.13L376.51 287.63L376.60 287.18L376.70 286.77L376.79 286.39L376.89 286.05L376.99 285.75L377.08 285.48L377.18 285.24L377.27 285.03L377.37 284.85L377.47 284.70L377.56 284.58L377.66 284.49L377.75 284.42L377.85 284.38L377.95 284.37L378.04 284.38L378.14 284.42L378.23 284.49L378.33 284.58L378.43 284.70L378.52 284.85L378.62 285.03L378.71 285.24L378.81 285.48L378.90 285.75L379.00 286.05L379.10 286.39L379.19 286.77L379.29 287.18L379.38 287.63L379.48 288.13L379.58 288.67L379.67 289.25L379.77 289.89L379.86 290.58L379.96 291.34L380.06 292.16L380.15 293.07L380.25 294.07L380.34 295.19L380.44 296.46L380.53 297.92L380.63 299.63L380.73 301.66L380.82 304.14L380.92 307.19L381.01 311.03L381.11 315.90L381.21 322.17L381.30 330.27L381.40 340.79L381.49 354.49L381.59 372.35L381.69 395.60L381.78 425.80"/><path d="M381.78 425.80L381.88 395.60L381.97 372.35L382.07 354.49L382.17 340.79L382.26 330.27L382.36 322.17L382.45 315.90L382.55 311.03L382.64 307.19L382.74 304.14L382.84 301.66L382.93 299.63L383.03 297.92L383.12 296.46L383.22 295.19L383.32 294.07L383.41 293.07L383.51 292.16L383.60 291.34L383.70 290.58L383.80 289.89L383.89 289.25L383.99 288.67L384.08 288.13L384.18 287.63L384.28 287.18L384.37 286.77L384.47 286.39L384.56 286.05L384.66 285.75L384.75 285.48L384.85 285.24L384.95 285.03L385.04 284.85L385.14 284.70L385.23 284.58L385.33 284.49L385.43 284.42L385.52 284.38L385.62 284.37L385.71 284.38L385.81 284.42L385.91 284.49L386.00 284.58L386.10 284.70L386.19 284.85L386.29 285.03L386.39 285.24L386.48 285.48L386.58 285.75L386.67 286.05L386.77 286.39L386.86 286.77L386.96 287.18L387.06 287.63L387.15 288.13L387.25 288.67L387.34 289.25L387.44 289.89L387.54 290.58L387.63 291.34L387.73 292.16L387.82 293.07L387.92 294.07L388.02 295.19L388.11 296.46L388.21 297.92L388.30 299.63L388.40 301.66L388.50 304.14L388.59 307.19L388.69 311.03L388.78 315.90L388.88 322.17L388.97 330.27L389.07 340.79L389.17 354.49L389.26 372.35L389.36 395.60L389.45 425.80"/><path d="M389.45 425.80L389.55 395.60L389.65 372.35L389.74 354.49L389.84 340.79L389.93 330.27L390.03 322.17L390.13 315.90L390.22 311.03L390.32 307.19L390.41 304.14L390.51 301.66L390.61 299.63L390.70 297.92L390.80 296.46L390.89 295.19L390.99 294.07L391.08 293.07L391.18 292.16L391.28 291.34L391.37 290.58L391.47 289.89L391.56 289.25L391.66 288.67L391.76 288.13L391.85 287.63L391.95 287.18L392.04 286.77L392.14 286.39L392.24 286.05L392.33 285.75L392.43 285.48L392.52 285.24L392.62 285.03L392.72 284.85L392.81 284.70L392.91 284.58L393.00 284.49L393.10 284.42L393.19 284.38L393.29 284.37L393.39 284.38L393.48 284.42L393.58 284.49L393.67 284.58L393.77 284.70L393.87 284.85L393.96 285.03L394.06 285.24L394.15 285.48L394.25 285.75L394.35 286.05L394.44 286.39L394.54 286.77L394.63 287.18L394.73 287.63L394.83 288.13L394.92 288.67L395.02 289.25L395.11 289.89L395.21 290.58L395.31 291.34L395.40 292.16L395.50 293.07L395.59 294.07L395.69 295.19L395.78 296.46L395.88 297.92L395.98 299.63L396.07 301.66L396.17 304.14L396.26 307.19L396.36 311.03L396.46 315.90L396.55 322.17L396.65 330.27L396.74 340.79L396.84 354.49L396.94 372.35L397.03 395.60L397.13 425.80"/><path d="M397.13 425.80L397.22 395.60L397.32 372.35L397.42 354.49L397.51 340.79L397.61 330.27L397.70 322.17L397.80 315.90L397.89 311.03L397.99 307.19L398.09 304.14L398.18 301.66L398.28 299.63L398.37 297.92L398.47 296.46L398.57 295.19L398.66 294.07L398.76 293.07L398.85 292.16L398.95 291.34L399.05 290.58L399.14 289.89L399.24 289.25L399.33 288.67L399.43 288.13L399.52 287.63L399.62 287.18L399.72 286.77L399.81 286.39L399.91 286.05L400.00 285.75L400.10 285.48L400.20 285.24L400.29 285.03L400.39 284.85L400.48 284.70L400.58 284.58L400.68 284.49L400.77 284.42L400.87 284.38L400.96 284.37L401.06 284.38L401.16 284.42L401.25 284.49L401.35 284.58L401.44 284.70L401.54 284.85L401.63 285.03L401.73 285.24L401.83 285.48L401.92 285.75L402.02 286.05L402.11 286.39L402.21 286.77L402.31 287.18L402.40 287.63L402.50 288.13L402.59 288.67L402.69 289.25L402.79 289.89L402.88 290.58L402.98 291.34L403.07 292.16L403.17 293.07L403.27 294.07L403.36 295.19L403.46 296.46L403.55 297.92L403.65 299.63L403.75 301.66L403.84 304.14L403.94 307.19L404.03 311.03L404.13 315.90L404.22 322.17L404.32 330.27L404.42 340.79L404.51 354.49L404.61 372.35L404.70 395.60L404.80 425.80"/><path d="M404.80 425.80L404.89 395.60L404.98 372.35L405.06 354.49L405.15 340.79L405.24 330.27L405.32 322.17L405.41 315.90L405.50 311.03L405.59 307.19L405.68 304.14L405.76 301.66L405.85 299.63L405.94 297.92L406.03 296.46L406.11 295.19L406.20 294.07L406.29 293.07L406.38 292.16L406.46 291.34L406.55 290.58L406.64 289.89L406.73 289.25L406.81 288.67L406.90 288.13L406.99 287.63L407.07 287.18L407.16 286.77L407.25 286.39L407.34 286.05L407.43 285.75L407.51 285.48L407.60 285.24L407.69 285.03L407.78 284.85L407.86 284.70L407.95 284.58L408.04 284.49L408.12 284.42L408.21 284.38L408.30 284.37L408.39 284.38L408.48 284.42L408.56 284.49L408.65 284.58L408.74 284.70L408.82 284.85L408.91 285.03L409.00 285.24L409.09 285.48L409.18 285.75L409.26 286.05L409.35 286.39L409.44 286.77L409.53 287.18L409.61 287.63L409.70 288.13L409.79 288.67L409.88 289.25L409.96 289.89L410.05 290.58L410.14 291.34L410.23 292.16L410.31 293.07L410.40 294.07L410.49 295.19L410.57 296.46L410.66 297.92L410.75 299.63L410.84 301.66L410.93 304.14L411.01 307.19L411.10 311.03L411.19 315.90L411.28 322.17L411.36 330.27L411.45 340.79L411.54 354.49L411.62 372.35L411.71 395.60L411.80 425.80"/><path d="M425.80 425.80L425.90 395.81L425.99 372.73L426.09 355.00L426.18 341.39L426.28 330.94L426.37 322.90L426.47 316.68L426.56 311.83L426.66 308.03L426.75 304.99L426.85 302.54L426.94 300.51L427.04 298.82L427.13 297.37L427.23 296.11L427.32 295.00L427.42 294.00L427.51 293.10L427.61 292.28L427.70 291.53L427.80 290.84L427.90 290.21L427.99 289.63L428.09 289.09L428.18 288.60L428.28 288.15L428.37 287.74L428.47 287.37L428.56 287.04L428.66 286.73L428.75 286.46L428.85 286.23L428.94 286.02L429.04 285.84L429.13 285.69L429.23 285.57L429.32 285.48L429.42 285.41L429.51 285.38L429.61 285.36L429.70 285.38L429.80 285.41L429.89 285.48L429.99 285.57L430.09 285.69L430.18 285.84L430.28 286.02L430.37 286.23L430.47 286.46L430.56 286.73L430.66 287.04L430.75 287.37L430.85 287.74L430.94 288.15L431.04 288.60L431.13 289.09L431.23 289.63L431.32 290.21L431.42 290.84L431.51 291.53L431.61 292.28L431.70 293.10L431.80 294.00L431.89 295.00L431.99 296.11L432.09 297.37L432.18 298.82L432.28 300.51L432.37 302.54L432.47 304.99L432.56 308.03L432.66 311.83L432.75 316.68L432.85 322.90L432.94 330.94L433.04 341.39L433.13 355.00L433.23 372.73L433.32 395.81L433.42 425.80"/><path d="M433.42 425.80L433.51 395.81L433.61 372.73L433.70 355.00L433.80 341.39L433.89 330.94L433.99 322.90L434.08 316.68L434.18 311.83L434.28 308.03L434.37 304.99L434.47 302.54L434.56 300.51L434.66 298.82L434.75 297.37L434.85 296.11L434.94 295.00L435.04 294.00L435.13 293.10L435.23 292.28L435.32 291.53L435.42 290.84L435.51 290.21L435.61 289.63L435.70 289.09L435.80 288.60L435.89 288.15L435.99 287.74L436.08 287.37L436.18 287.04L436.28 286.73L436.37 286.46L436.47 286.23L436.56 286.02L436.66 285.84L436.75 285.69L436.85 285.57L436.94 285.48L437.04 285.41L437.13 285.38L437.23 285.36L437.32 285.38L437.42 285.41L437.51 285.48L437.61 285.57L437.70 285.69L437.80 285.84L437.89 286.02L437.99 286.23L438.08 286.46L438.18 286.73L438.27 287.04L438.37 287.37L438.47 287.74L438.56 288.15L438.66 288.60L438.75 289.09L438.85 289.63L438.94 290.21L439.04 290.84L439.13 291.53L439.23 292.28L439.32 293.10L439.42 294.00L439.51 295.00L439.61 296.11L439.70 297.37L439.80 298.82L439.89 300.51L439.99 302.54L440.08 304.99L440.18 308.03L440.27 311.83L440.37 316.68L440.47 322.90L440.56 330.94L440.66 341.39L440.75 355.00L440.85 372.73L440.94 395.81L441.04 425.80"/><path d="M441.04 425.80L441.13 395.81L441.23 372.73L441.32 355.00L441.42 341.39L441.51 330.94L441.61 322.90L441.70 316.68L441.80 311.83L441.89 308.03L441.99 304.99L442.08 302.54L442.18 300.51L442.27 298.82L442.37 297.37L442.46 296.11L442.56 295.00L442.66 294.00L442.75 293.10L442.85 292.28L442.94 291.53L443.04 290.84L443.13 290.21L443.23 289.63L443.32 289.09L443.42 288.60L443.51 288.15L443.61 287.74L443.70 287.37L443.80 287.04L443.89 286.73L443.99 286.46L444.08 286.23L444.18 286.02L444.27 285.84L444.37 285.69L444.46 285.57L444.56 285.48L444.66 285.41L444.75 285.38L444.85 285.36L444.94 285.38L445.04 285.41L445.13 285.48L445.23 285.57L445.32 285.69L445.42 285.84L445.51 286.02L445.61 286.23L445.70 286.46L445.80 286.73L445.89 287.04L445.99 287.37L446.08 287.74L446.18 288.15L446.27 288.60L446.37 289.09L446.46 289.63L446.56 290.21L446.65 290.84L446.75 291.53L446.85 292.28L446.94 293.10L447.04 294.00L447.13 295.00L447.23 296.11L447.32 297.37L447.42 298.82L447.51 300.51L447.61 302.54L447.70 304.99L447.80 308.03L447.89 311.83L447.99 316.68L448.08 322.90L448.18 330.94L448.27 341.39L448.37 355.00L448.46 372.73L448.56 395.81L448.65 425.80"/><path d="M448.65 425.80L448.75 395.81L448.85 372.73L448.94 355.00L449.04 341.39L449.13 330.94L449.23 322.90L449.32 316.68L449.42 311.83L449.51 308.03L449.61 304.99L449.70 302.54L449.80 300.51L449.89 298.82L449.99 297.37L450.08 296.11L450.18 295.00L450.27 294.00L450.37 293.10L450.46 292.28L450.56 291.53L450.65 290.84L450.75 290.21L450.84 289.63L450.94 289.09L451.04 288.60L451.13 288.15L451.23 287.74L451.32 287.37L451.42 287.04L451.51 286.73L451.61 286.46L451.70 286.23L451.80 286.02L451.89 285.84L451.99 285.69L452.08 285.57L452.18 285.48L452.27 285.41L452.37 285.38L452.46 285.36L452.56 285.38L452.65 285.41L452.75 285.48L452.84 285.57L452.94 285.69L453.04 285.84L453.13 286.02L453.23 286.23L453.32 286.46L453.42 286.73L453.51 287.04L453.61 287.37L453.70 287.74L453.80 288.15L453.89 288.60L453.99 289.09L454.08 289.63L454.18 290.21L454.27 290.84L454.37 291.53L454.46 292.28L454.56 293.10L454.65 294.00L454.75 295.00L454.84 296.11L454.94 297.37L455.03 298.82L455.13 300.51L455.23 302.54L455.32 304.99L455.42 308.03L455.51 311.83L455.61 316.68L455.70 322.90L455.80 330.94L455.89 341.39L455.99 355.00L456.08 372.73L456.18 395.81L456.27 425.80"/><path d="M456.27 425.80L456.37 395.81L456.46 372.73L456.56 355.00L456.65 341.39L456.75 330.94L456.84 322.90L456.94 316.68L457.03 311.83L457.13 308.03L457.23 304.99L457.32 302.54L457.42 300.51L457.51 298.82L457.61 297.37L457.70 296.11L457.80 295.00L457.89 294.00L457.99 293.10L458.08 292.28L458.18 291.53L458.27 290.84L458.37 290.21L458.46 289.63L458.56 289.09L458.65 288.60L458.75 288.15L458.84 287.74L458.94 287.37L459.03 287.04L459.13 286.73L459.22 286.46L459.32 286.23L459.42 286.02L459.51 285.84L459.61 285.69L459.70 285.57L459.80 285.48L459.89 285.41L459.99 285.38L460.08 285.36L460.18 285.38L460.27 285.41L460.37 285.48L460.46 285.57L460.56 285.69L460.65 285.84L460.75 286.02L460.84 286.23L460.94 286.46L461.03 286.73L461.13 287.04L461.22 287.37L461.32 287.74L461.42 288.15L461.51 288.60L461.61 289.09L461.70 289.63L461.80 290.21L461.89 290.84L461.99 291.53L462.08 292.28L462.18 293.10L462.27 294.00L462.37 295.00L462.46 296.11L462.56 297.37L462.65 298.82L462.75 300.51L462.84 302.54L462.94 304.99L463.03 308.03L463.13 311.83L463.22 316.68L463.32 322.90L463.41 330.94L463.51 341.39L463.61 355.00L463.70 372.73L463.80 395.81L463.89 425.80"/><path d="M463.89 425.80L463.99 395.81L464.08 372.73L464.18 355.00L464.27 341.39L464.37 330.94L464.46 322.90L464.56 316.68L464.65 311.83L464.75 308.03L464.84 304.99L464.94 302.54L465.03 300.51L465.13 298.82L465.22 297.37L465.32 296.11L465.41 295.00L465.51 294.00L465.60 293.10L465.70 292.28L465.80 291.53L465.89 290.84L465.99 290.21L466.08 289.63L466.18 289.09L466.27 288.60L466.37 288.15L466.46 287.74L466.56 287.37L466.65 287.04L466.75 286.73L466.84 286.46L466.94 286.23L467.03 286.02L467.13 285.84L467.22 285.69L467.32 285.57L467.41 285.48L467.51 285.41L467.60 285.38L467.70 285.36L467.80 285.38L467.89 285.41L467.99 285.48L468.08 285.57L468.18 285.69L468.27 285.84L468.37 286.02L468.46 286.23L468.56 286.46L468.65 286.73L468.75 287.04L468.84 287.37L468.94 287.74L469.03 288.15L469.13 288.60L469.22 289.09L469.32 289.63L469.41 290.21L469.51 290.84L469.60 291.53L469.70 292.28L469.80 293.10L469.89 294.00L469.99 295.00L470.08 296.11L470.18 297.37L470.27 298.82L470.37 300.51L470.46 302.54L470.56 304.99L470.65 308.03L470.75 311.83L470.84 316.68L470.94 322.90L471.03 330.94L471.13 341.39L471.22 355.00L471.32 372.73L471.41 395.81L471.51 425.80"/><path d="M471.51 425.80L471.60 395.81L471.70 372.73L471.79 355.00L471.89 341.39L471.99 330.94L472.08 322.90L472.18 316.68L472.27 311.83L472.37 308.03L472.46 304.99L472.56 302.54L472.65 300.51L472.75 298.82L472.84 297.37L472.94 296.11L473.03 295.00L473.13 294.00L473.22 293.10L473.32 292.28L473.41 291.53L473.51 290.84L473.60 290.21L473.70 289.63L473.79 289.09L473.89 288.60L473.99 288.15L474.08 287.74L474.18 287.37L474.27 287.04L474.37 286.73L474.46 286.46L474.56 286.23L474.65 286.02L474.75 285.84L474.84 285.69L474.94 285.57L475.03 285.48L475.13 285.41L475.22 285.38L475.32 285.36L475.41 285.38L475.51 285.41L475.60 285.48L475.70 285.57L475.79 285.69L475.89 285.84L475.98 286.02L476.08 286.23L476.18 286.46L476.27 286.73L476.37 287.04L476.46 287.37L476.56 287.74L476.65 288.15L476.75 288.60L476.84 289.09L476.94 289.63L477.03 290.21L477.13 290.84L477.22 291.53L477.32 292.28L477.41 293.10L477.51 294.00L477.60 295.00L477.70 296.11L477.79 297.37L477.89 298.82L477.98 300.51L478.08 302.54L478.18 304.99L478.27 308.03L478.37 311.83L478.46 316.68L478.56 322.90L478.65 330.94L478.75 341.39L478.84 355.00L478.94 372.73L479.03 395.81L479.13 425.80"/><path d="M479.13 425.80L479.22 395.81L479.32 372.73L479.41 355.00L479.51 341.39L479.60 330.94L479.70 322.90L479.79 316.68L479.89 311.83L479.98 308.03L480.08 304.99L480.17 302.54L480.27 300.51L480.37 298.82L480.46 297.37L480.56 296.11L480.65 295.00L480.75 294.00L480.84 293.10L480.94 292.28L481.03 291.53L481.13 290.84L481.22 290.21L481.32 289.63L481.41 289.09L481.51 288.60L481.60 288.15L481.70 287.74L481.79 287.37L481.89 287.04L481.98 286.73L482.08 286.46L482.17 286.23L482.27 286.02L482.37 285.84L482.46 285.69L482.56 285.57L482.65 285.48L482.75 285.41L482.84 285.38L482.94 285.36L483.03 285.38L483.13 285.41L483.22 285.48L483.32 285.57L483.41 285.69L483.51 285.84L483.60 286.02L483.70 286.23L483.79 286.46L483.89 286.73L483.98 287.04L484.08 287.37L484.17 287.74L484.27 288.15L484.36 288.60L484.46 289.09L484.56 289.63L484.65 290.21L484.75 290.84L484.84 291.53L484.94 292.28L485.03 293.10L485.13 294.00L485.22 295.00L485.32 296.11L485.41 297.37L485.51 298.82L485.60 300.51L485.70 302.54L485.79 304.99L485.89 308.03L485.98 311.83L486.08 316.68L486.17 322.90L486.27 330.94L486.36 341.39L486.46 355.00L486.56 372.73L486.65 395.81L486.75 425.80"/><path d="M486.75 425.80L486.84 395.81L486.94 372.73L487.03 355.00L487.13 341.39L487.22 330.94L487.32 322.90L487.41 316.68L487.51 311.83L487.60 308.03L487.70 304.99L487.79 302.54L487.89 300.51L487.98 298.82L488.08 297.37L488.17 296.11L488.27 295.00L488.36 294.00L488.46 293.10L488.55 292.28L488.65 291.53L488.75 290.84L488.84 290.21L488.94 289.63L489.03 289.09L489.13 288.60L489.22 288.15L489.32 287.74L489.41 287.37L489.51 287.04L489.60 286.73L489.70 286.46L489.79 286.23L489.89 286.02L489.98 285.84L490.08 285.69L490.17 285.57L490.27 285.48L490.36 285.41L490.46 285.38L490.55 285.36L490.65 285.38L490.75 285.41L490.84 285.48L490.94 285.57L491.03 285.69L491.13 285.84L491.22 286.02L491.32 286.23L491.41 286.46L491.51 286.73L491.60 287.04L491.70 287.37L491.79 287.74L491.89 288.15L491.98 288.60L492.08 289.09L492.17 289.63L492.27 290.21L492.36 290.84L492.46 291.53L492.55 292.28L492.65 293.10L492.74 294.00L492.84 295.00L492.94 296.11L493.03 297.37L493.13 298.82L493.22 300.51L493.32 302.54L493.41 304.99L493.51 308.03L493.60 311.83L493.70 316.68L493.79 322.90L493.89 330.94L493.98 341.39L494.08 355.00L494.17 372.73L494.27 395.81L494.36 425.80"/><path d="M494.36 425.80L494.46 395.81L494.55 372.73L494.65 355.00L494.74 341.39L494.84 330.94L494.94 322.90L495.03 316.68L495.13 311.83L495.22 308.03L495.32 304.99L495.41 302.54L495.51 300.51L495.60 298.82L495.70 297.37L495.79 296.11L495.89 295.00L495.98 294.00L496.08 293.10L496.17 292.28L496.27 291.53L496.36 290.84L496.46 290.21L496.55 289.63L496.65 289.09L496.74 288.60L496.84 288.15L496.93 287.74L497.03 287.37L497.13 287.04L497.22 286.73L497.32 286.46L497.41 286.23L497.51 286.02L497.60 285.84L497.70 285.69L497.79 285.57L497.89 285.48L497.98 285.41L498.08 285.38L498.17 285.36L498.27 285.38L498.36 285.41L498.46 285.48L498.55 285.57L498.65 285.69L498.74 285.84L498.84 286.02L498.93 286.23L499.03 286.46L499.12 286.73L499.22 287.04L499.32 287.37L499.41 287.74L499.51 288.15L499.60 288.60L499.70 289.09L499.79 289.63L499.89 290.21L499.98 290.84L500.08 291.53L500.17 292.28L500.27 293.10L500.36 294.00L500.46 295.00L500.55 296.11L500.65 297.37L500.74 298.82L500.84 300.51L500.93 302.54L501.03 304.99L501.12 308.03L501.22 311.83L501.32 316.68L501.41 322.90L501.51 330.94L501.60 341.39L501.70 355.00L501.79 372.73L501.89 395.81L501.98 425.80"/><path d="M501.98 425.80L502.08 395.81L502.17 372.73L502.27 355.00L502.36 341.39L502.46 330.94L502.55 322.90L502.65 316.68L502.74 311.83L502.84 308.03L502.93 304.99L503.03 302.54L503.12 300.51L503.22 298.82L503.31 297.37L503.41 296.11L503.51 295.00L503.60 294.00L503.70 293.10L503.79 292.28L503.89 291.53L503.98 290.84L504.08 290.21L504.17 289.63L504.27 289.09L504.36 288.60L504.46 288.15L504.55 287.74L504.65 287.37L504.74 287.04L504.84 286.73L504.93 286.46L505.03 286.23L505.12 286.02L505.22 285.84L505.31 285.69L505.41 285.57L505.51 285.48L505.60 285.41L505.70 285.38L505.79 285.36L505.89 285.38L505.98 285.41L506.08 285.48L506.17 285.57L506.27 285.69L506.36 285.84L506.46 286.02L506.55 286.23L506.65 286.46L506.74 286.73L506.84 287.04L506.93 287.37L507.03 287.74L507.12 288.15L507.22 288.60L507.31 289.09L507.41 289.63L507.50 290.21L507.60 290.84L507.70 291.53L507.79 292.28L507.89 293.10L507.98 294.00L508.08 295.00L508.17 296.11L508.27 297.37L508.36 298.82L508.46 300.51L508.55 302.54L508.65 304.99L508.74 308.03L508.84 311.83L508.93 316.68L509.03 322.90L509.12 330.94L509.22 341.39L509.31 355.00L509.41 372.73L509.50 395.81L509.60 425.80"/><path d="M509.60 425.80L509.66 396.33L509.71 373.64L509.77 356.21L509.83 342.84L509.88 332.57L509.94 324.66L509.99 318.55L510.05 313.79L510.11 310.05L510.16 307.07L510.22 304.65L510.28 302.67L510.33 301.00L510.39 299.58L510.44 298.34L510.50 297.24L510.56 296.27L510.61 295.38L510.67 294.58L510.73 293.84L510.78 293.16L510.84 292.54L510.89 291.97L510.95 291.44L511.01 290.96L511.06 290.52L511.12 290.12L511.18 289.75L511.23 289.42L511.29 289.12L511.34 288.86L511.40 288.63L511.46 288.42L511.51 288.25L511.57 288.10L511.62 287.98L511.68 287.89L511.74 287.83L511.79 287.79L511.85 287.78L511.91 287.79L511.96 287.83L512.02 287.89L512.08 287.98L512.13 288.10L512.19 288.25L512.24 288.42L512.30 288.63L512.36 288.86L512.41 289.12L512.47 289.42L512.52 289.75L512.58 290.12L512.64 290.52L512.69 290.96L512.75 291.44L512.81 291.97L512.86 292.54L512.92 293.16L512.98 293.84L513.03 294.58L513.09 295.38L513.14 296.27L513.20 297.24L513.26 298.34L513.31 299.58L513.37 301.00L513.43 302.67L513.48 304.65L513.54 307.07L513.59 310.05L513.65 313.79L513.71 318.55L513.76 324.66L513.82 332.57L513.88 342.84L513.93 356.21L513.99 373.64L514.04 396.33L514.10 425.80"/><path d="M514.10 425.80L514.16 396.33L514.21 373.64L514.27 356.21L514.33 342.84L514.38 332.57L514.44 324.66L514.49 318.55L514.55 313.79L514.61 310.05L514.66 307.07L514.72 304.65L514.77 302.67L514.83 301.00L514.89 299.58L514.94 298.34L515.00 297.24L515.06 296.27L515.11 295.38L515.17 294.58L515.23 293.84L515.28 293.16L515.34 292.54L515.39 291.97L515.45 291.44L515.51 290.96L515.56 290.52L515.62 290.12L515.68 289.75L515.73 289.42L515.79 289.12L515.84 288.86L515.90 288.63L515.96 288.42L516.01 288.25L516.07 288.10L516.12 287.98L516.18 287.89L516.24 287.83L516.29 287.79L516.35 287.78L516.41 287.79L516.46 287.83L516.52 287.89L516.58 287.98L516.63 288.10L516.69 288.25L516.74 288.42L516.80 288.63L516.86 288.86L516.91 289.12L516.97 289.42L517.02 289.75L517.08 290.12L517.14 290.52L517.19 290.96L517.25 291.44L517.31 291.97L517.36 292.54L517.42 293.16L517.48 293.84L517.53 294.58L517.59 295.38L517.64 296.27L517.70 297.24L517.76 298.34L517.81 299.58L517.87 301.00L517.93 302.67L517.98 304.65L518.04 307.07L518.09 310.05L518.15 313.79L518.21 318.55L518.26 324.66L518.32 332.57L518.38 342.84L518.43 356.21L518.49 373.64L518.54 396.33L518.60 425.80"/><path d="M521.60 425.80L521.68 395.81L521.75 372.73L521.83 355.00L521.90 341.39L521.98 330.94L522.05 322.90L522.12 316.68L522.20 311.83L522.27 308.03L522.35 304.99L522.43 302.54L522.50 300.51L522.58 298.82L522.65 297.37L522.73 296.11L522.80 295.00L522.88 294.00L522.95 293.10L523.02 292.28L523.10 291.53L523.18 290.84L523.25 290.21L523.33 289.63L523.40 289.09L523.48 288.60L523.55 288.15L523.62 287.74L523.70 287.37L523.77 287.04L523.85 286.73L523.93 286.46L524.00 286.23L524.08 286.02L524.15 285.84L524.23 285.69L524.30 285.57L524.38 285.48L524.45 285.41L524.52 285.38L524.60 285.36L524.68 285.38L524.75 285.41L524.83 285.48L524.90 285.57L524.98 285.69L525.05 285.84L525.12 286.02L525.20 286.23L525.27 286.46L525.35 286.73L525.43 287.04L525.50 287.37L525.58 287.74L525.65 288.15L525.73 288.60L525.80 289.09L525.88 289.63L525.95 290.21L526.02 290.84L526.10 291.53L526.18 292.28L526.25 293.10L526.33 294.00L526.40 295.00L526.48 296.11L526.55 297.37L526.62 298.82L526.70 300.51L526.77 302.54L526.85 304.99L526.93 308.03L527.00 311.83L527.08 316.68L527.15 322.90L527.23 330.94L527.30 341.39L527.38 355.00L527.45 372.73L527.52 395.81L527.60 425.80"/><path d="M527.60 425.80L527.68 395.81L527.75 372.73L527.83 355.00L527.90 341.39L527.98 330.94L528.05 322.90L528.12 316.68L528.20 311.83L528.27 308.03L528.35 304.99L528.43 302.54L528.50 300.51L528.58 298.82L528.65 297.37L528.73 296.11L528.80 295.00L528.88 294.00L528.95 293.10L529.02 292.28L529.10 291.53L529.18 290.84L529.25 290.21L529.33 289.63L529.40 289.09L529.48 288.60L529.55 288.15L529.62 287.74L529.70 287.37L529.77 287.04L529.85 286.73L529.93 286.46L530.00 286.23L530.08 286.02L530.15 285.84L530.23 285.69L530.30 285.57L530.38 285.48L530.45 285.41L530.52 285.38L530.60 285.36L530.68 285.38L530.75 285.41L530.83 285.48L530.90 285.57L530.98 285.69L531.05 285.84L531.12 286.02L531.20 286.23L531.27 286.46L531.35 286.73L531.43 287.04L531.50 287.37L531.58 287.74L531.65 288.15L531.73 288.60L531.80 289.09L531.88 289.63L531.95 290.21L532.02 290.84L532.10 291.53L532.18 292.28L532.25 293.10L532.33 294.00L532.40 295.00L532.48 296.11L532.55 297.37L532.62 298.82L532.70 300.51L532.77 302.54L532.85 304.99L532.93 308.03L533.00 311.83L533.08 316.68L533.15 322.90L533.23 330.94L533.30 341.39L533.38 355.00L533.45 372.73L533.52 395.81L533.60 425.80"/><path d="M533.60 425.80L533.68 395.81L533.75 372.73L533.83 355.00L533.90 341.39L533.98 330.94L534.05 322.90L534.12 316.68L534.20 311.83L534.27 308.03L534.35 304.99L534.43 302.54L534.50 300.51L534.58 298.82L534.65 297.37L534.73 296.11L534.80 295.00L534.88 294.00L534.95 293.10L535.02 292.28L535.10 291.53L535.18 290.84L535.25 290.21L535.33 289.63L535.40 289.09L535.48 288.60L535.55 288.15L535.62 287.74L535.70 287.37L535.77 287.04L535.85 286.73L535.93 286.46L536.00 286.23L536.08 286.02L536.15 285.84L536.23 285.69L536.30 285.57L536.38 285.48L536.45 285.41L536.52 285.38L536.60 285.36L536.68 285.38L536.75 285.41L536.83 285.48L536.90 285.57L536.98 285.69L537.05 285.84L537.12 286.02L537.20 286.23L537.27 286.46L537.35 286.73L537.43 287.04L537.50 287.37L537.58 287.74L537.65 288.15L537.73 288.60L537.80 289.09L537.88 289.63L537.95 290.21L538.02 290.84L538.10 291.53L538.18 292.28L538.25 293.10L538.33 294.00L538.40 295.00L538.48 296.11L538.55 297.37L538.62 298.82L538.70 300.51L538.77 302.54L538.85 304.99L538.93 308.03L539.00 311.83L539.08 316.68L539.15 322.90L539.23 330.94L539.30 341.39L539.38 355.00L539.45 372.73L539.52 395.81L539.60 425.80"/><path d="M539.60 425.80L539.68 395.81L539.75 372.73L539.83 355.00L539.90 341.39L539.98 330.94L540.06 322.90L540.13 316.68L540.21 311.83L540.29 308.03L540.36 304.99L540.44 302.54L540.51 300.51L540.59 298.82L540.67 297.37L540.74 296.11L540.82 295.00L540.90 294.00L540.97 293.10L541.05 292.28L541.12 291.53L541.20 290.84L541.28 290.21L541.35 289.63L541.43 289.09L541.51 288.60L541.58 288.15L541.66 287.74L541.74 287.37L541.81 287.04L541.89 286.73L541.96 286.46L542.04 286.23L542.12 286.02L542.19 285.84L542.27 285.69L542.35 285.57L542.42 285.48L542.50 285.41L542.57 285.38L542.65 285.36L542.73 285.38L542.80 285.41L542.88 285.48L542.96 285.57L543.03 285.69L543.11 285.84L543.18 286.02L543.26 286.23L543.34 286.46L543.41 286.73L543.49 287.04L543.57 287.37L543.64 287.74L543.72 288.15L543.79 288.60L543.87 289.09L543.95 289.63L544.02 290.21L544.10 290.84L544.18 291.53L544.25 292.28L544.33 293.10L544.40 294.00L544.48 295.00L544.56 296.11L544.63 297.37L544.71 298.82L544.79 300.51L544.86 302.54L544.94 304.99L545.01 308.03L545.09 311.83L545.17 316.68L545.24 322.90L545.32 330.94L545.40 341.39L545.47 355.00L545.55 372.73L545.62 395.81L545.70 425.80"/></g>
<text class="tk" x="30.25" y="441.80" text-anchor="middle">0</text>
<text class="tk" x="116.31" y="441.80" text-anchor="middle">200</text>
<text class="tk" x="202.37" y="441.80" text-anchor="middle">400</text>
<text class="tk" x="288.43" y="441.80" text-anchor="middle">600</text>
<text class="tk" x="374.49" y="441.80" text-anchor="middle">800</text>
<text class="tk" x="460.55" y="441.80" text-anchor="middle">1000</text>
<text class="tk" x="25.95" y="430.20" text-anchor="end">0</text>
<text class="tk" x="25.95" y="387.60" text-anchor="end">0.01</text>
<text class="tk" x="25.95" y="345.00" text-anchor="end">0.02</text>
<text class="tk" x="25.95" y="302.40" text-anchor="end">0.03</text>
<text class="tk" x="25.95" y="259.80" text-anchor="end">0.04</text>
<text class="tt" x="287.12" y="249.50" text-anchor="middle">Bezier approximation</text>
<text class="lb" x="287.62" y="457.90" text-anchor="middle">path length (m)</text>
</g>
</svg></body></html>
